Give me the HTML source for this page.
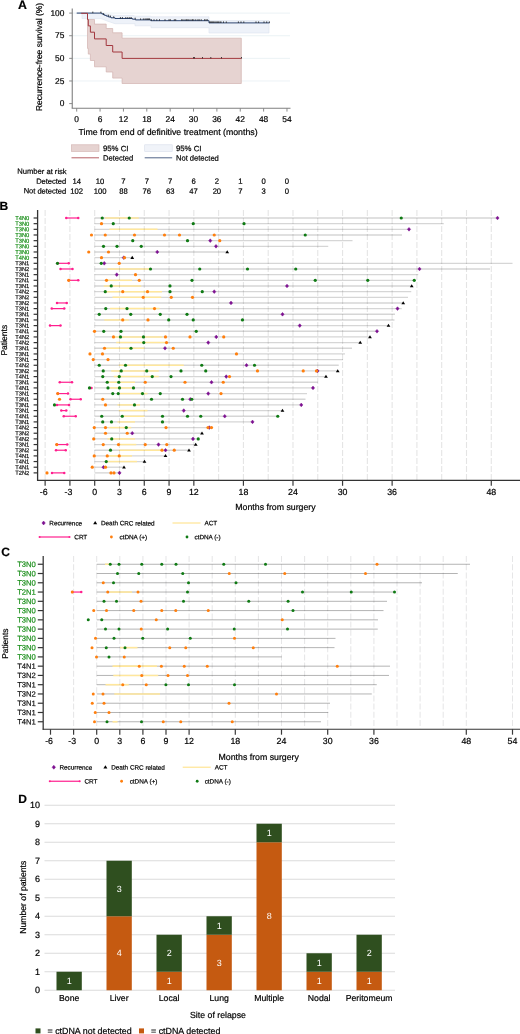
<!DOCTYPE html>
<html lang="en"><head><meta charset="utf-8"><title>Figure</title>
<style>html,body{margin:0;padding:0;background:#fff}svg{display:block}text{font-family:"Liberation Sans",sans-serif;text-rendering:geometricPrecision}</style></head><body>
<svg width="520" height="1034" viewBox="0 0 520 1034">
<rect width="520" height="1034" fill="#fff"/>
<g id="panelA">
<text x="18.00" y="9.00" font-size="12.3" text-anchor="start" fill="#000" stroke="#000" stroke-width="0.2" font-weight="bold" >A</text>
<line x1="72.50" y1="80.97" x2="290.00" y2="80.97" stroke="#e6eff2" stroke-width="0.8" />
<line x1="72.50" y1="58.35" x2="290.00" y2="58.35" stroke="#e6eff2" stroke-width="0.8" />
<line x1="72.50" y1="35.72" x2="290.00" y2="35.72" stroke="#e6eff2" stroke-width="0.8" />
<line x1="72.50" y1="13.10" x2="290.00" y2="13.10" stroke="#e6eff2" stroke-width="0.8" />
<polygon points="87.50,13.40 87.50,19.50 94.50,19.50 94.50,24.10 106.20,24.10 106.20,28.50 112.70,28.50 112.70,32.80 122.10,32.80 122.10,38.20 241.30,38.20 241.30,83.50 122.10,83.50 122.10,78.10 112.70,78.10 112.70,72.00 106.20,72.00 106.20,66.80 94.50,66.80 94.50,60.50 90.40,60.50 90.40,54.10 88.30,54.10 88.30,48.40 87.50,48.40" fill="#e6d3d1" stroke="#d2b3b0" stroke-width="0.7"/>
<polygon points="77.00,13.00 101.70,13.00 104.60,13.60 108.50,14.60 115.00,15.40 132.50,15.40 135.40,16.20 150.80,16.20 151.20,16.80 209.00,16.80 209.00,20.60 269.00,20.60 269.00,33.00 209.00,33.00 209.00,27.70 151.00,27.70 151.00,25.80 135.00,25.80 135.00,23.70 115.00,23.70 108.00,21.30 101.00,18.60 82.00,18.60 82.00,13.00" fill="#edf1f8" stroke="#dbe2ee" stroke-width="0.6" fill-opacity="0.92"/>
<polyline points="76.70,13.10 101.70,13.10 101.70,13.80 103.00,13.80 103.00,14.60 104.60,14.60 104.60,15.40 106.50,15.40 106.50,16.20 108.50,16.20 108.50,17.00 111.00,17.00 111.00,17.80 115.00,17.80 115.00,18.50 132.50,18.50 132.50,19.20 135.40,19.20 135.40,19.90 150.80,19.90 150.80,20.70 209.00,20.70 209.00,22.90 269.50,22.90" fill="none" stroke="#243c68" stroke-width="0.95"/>
<line x1="92.80" y1="11.60" x2="92.80" y2="13.10" stroke="#111" stroke-width="0.75" />
<line x1="100.90" y1="11.60" x2="100.90" y2="13.10" stroke="#111" stroke-width="0.75" />
<line x1="103.60" y1="13.10" x2="103.60" y2="14.60" stroke="#111" stroke-width="0.75" />
<line x1="108.30" y1="14.70" x2="108.30" y2="16.20" stroke="#111" stroke-width="0.75" />
<line x1="110.30" y1="15.50" x2="110.30" y2="17.00" stroke="#111" stroke-width="0.75" />
<line x1="113.70" y1="16.30" x2="113.70" y2="17.80" stroke="#111" stroke-width="0.75" />
<line x1="120.40" y1="17.00" x2="120.40" y2="18.50" stroke="#111" stroke-width="0.75" />
<line x1="122.40" y1="17.00" x2="122.40" y2="18.50" stroke="#111" stroke-width="0.75" />
<line x1="125.80" y1="17.00" x2="125.80" y2="18.50" stroke="#111" stroke-width="0.75" />
<line x1="127.80" y1="17.00" x2="127.80" y2="18.50" stroke="#111" stroke-width="0.75" />
<line x1="129.80" y1="17.00" x2="129.80" y2="18.50" stroke="#111" stroke-width="0.75" />
<line x1="131.20" y1="17.00" x2="131.20" y2="18.50" stroke="#111" stroke-width="0.75" />
<line x1="135.20" y1="17.70" x2="135.20" y2="19.20" stroke="#111" stroke-width="0.75" />
<line x1="140.60" y1="18.40" x2="140.60" y2="19.90" stroke="#111" stroke-width="0.75" />
<line x1="143.30" y1="18.40" x2="143.30" y2="19.90" stroke="#111" stroke-width="0.75" />
<line x1="145.00" y1="18.40" x2="145.00" y2="19.90" stroke="#111" stroke-width="0.75" />
<line x1="146.20" y1="18.40" x2="146.20" y2="19.90" stroke="#111" stroke-width="0.75" />
<line x1="147.40" y1="18.40" x2="147.40" y2="19.90" stroke="#111" stroke-width="0.75" />
<line x1="148.60" y1="18.40" x2="148.60" y2="19.90" stroke="#111" stroke-width="0.75" />
<line x1="149.60" y1="18.40" x2="149.60" y2="19.90" stroke="#111" stroke-width="0.75" />
<line x1="151.40" y1="19.20" x2="151.40" y2="20.70" stroke="#111" stroke-width="0.75" />
<line x1="154.00" y1="19.20" x2="154.00" y2="20.70" stroke="#111" stroke-width="0.75" />
<line x1="156.80" y1="19.20" x2="156.80" y2="20.70" stroke="#111" stroke-width="0.75" />
<line x1="159.50" y1="19.20" x2="159.50" y2="20.70" stroke="#111" stroke-width="0.75" />
<line x1="165.00" y1="19.20" x2="165.00" y2="20.70" stroke="#111" stroke-width="0.75" />
<line x1="169.00" y1="19.20" x2="169.00" y2="20.70" stroke="#111" stroke-width="0.75" />
<line x1="170.30" y1="19.20" x2="170.30" y2="20.70" stroke="#111" stroke-width="0.75" />
<line x1="174.30" y1="19.20" x2="174.30" y2="20.70" stroke="#111" stroke-width="0.75" />
<line x1="175.70" y1="19.20" x2="175.70" y2="20.70" stroke="#111" stroke-width="0.75" />
<line x1="181.70" y1="19.20" x2="181.70" y2="20.70" stroke="#111" stroke-width="0.75" />
<line x1="183.00" y1="19.20" x2="183.00" y2="20.70" stroke="#111" stroke-width="0.75" />
<line x1="185.00" y1="19.20" x2="185.00" y2="20.70" stroke="#111" stroke-width="0.75" />
<line x1="186.40" y1="19.20" x2="186.40" y2="20.70" stroke="#111" stroke-width="0.75" />
<line x1="187.80" y1="19.20" x2="187.80" y2="20.70" stroke="#111" stroke-width="0.75" />
<line x1="189.00" y1="19.20" x2="189.00" y2="20.70" stroke="#111" stroke-width="0.75" />
<line x1="191.00" y1="19.20" x2="191.00" y2="20.70" stroke="#111" stroke-width="0.75" />
<line x1="192.50" y1="19.20" x2="192.50" y2="20.70" stroke="#111" stroke-width="0.75" />
<line x1="193.80" y1="19.20" x2="193.80" y2="20.70" stroke="#111" stroke-width="0.75" />
<line x1="195.80" y1="19.20" x2="195.80" y2="20.70" stroke="#111" stroke-width="0.75" />
<line x1="197.90" y1="19.20" x2="197.90" y2="20.70" stroke="#111" stroke-width="0.75" />
<line x1="199.20" y1="19.20" x2="199.20" y2="20.70" stroke="#111" stroke-width="0.75" />
<line x1="201.20" y1="19.20" x2="201.20" y2="20.70" stroke="#111" stroke-width="0.75" />
<line x1="204.60" y1="19.20" x2="204.60" y2="20.70" stroke="#111" stroke-width="0.75" />
<line x1="206.00" y1="19.20" x2="206.00" y2="20.70" stroke="#111" stroke-width="0.75" />
<line x1="207.30" y1="19.20" x2="207.30" y2="20.70" stroke="#111" stroke-width="0.75" />
<line x1="209.80" y1="21.40" x2="209.80" y2="22.90" stroke="#111" stroke-width="0.75" />
<line x1="210.80" y1="21.40" x2="210.80" y2="22.90" stroke="#111" stroke-width="0.75" />
<line x1="211.80" y1="21.40" x2="211.80" y2="22.90" stroke="#111" stroke-width="0.75" />
<line x1="212.80" y1="21.40" x2="212.80" y2="22.90" stroke="#111" stroke-width="0.75" />
<line x1="213.80" y1="21.40" x2="213.80" y2="22.90" stroke="#111" stroke-width="0.75" />
<line x1="215.00" y1="21.40" x2="215.00" y2="22.90" stroke="#111" stroke-width="0.75" />
<line x1="216.20" y1="21.40" x2="216.20" y2="22.90" stroke="#111" stroke-width="0.75" />
<line x1="217.40" y1="21.40" x2="217.40" y2="22.90" stroke="#111" stroke-width="0.75" />
<line x1="218.60" y1="21.40" x2="218.60" y2="22.90" stroke="#111" stroke-width="0.75" />
<line x1="220.00" y1="21.40" x2="220.00" y2="22.90" stroke="#111" stroke-width="0.75" />
<line x1="221.00" y1="21.40" x2="221.00" y2="22.90" stroke="#111" stroke-width="0.75" />
<line x1="223.50" y1="21.40" x2="223.50" y2="22.90" stroke="#111" stroke-width="0.75" />
<line x1="226.30" y1="21.40" x2="226.30" y2="22.90" stroke="#111" stroke-width="0.75" />
<line x1="238.40" y1="21.40" x2="238.40" y2="22.90" stroke="#111" stroke-width="0.75" />
<line x1="241.00" y1="21.40" x2="241.00" y2="22.90" stroke="#111" stroke-width="0.75" />
<line x1="243.80" y1="21.40" x2="243.80" y2="22.90" stroke="#111" stroke-width="0.75" />
<line x1="256.00" y1="21.40" x2="256.00" y2="22.90" stroke="#111" stroke-width="0.75" />
<line x1="258.60" y1="21.40" x2="258.60" y2="22.90" stroke="#111" stroke-width="0.75" />
<line x1="264.00" y1="21.40" x2="264.00" y2="22.90" stroke="#111" stroke-width="0.75" />
<line x1="266.70" y1="21.40" x2="266.70" y2="22.90" stroke="#111" stroke-width="0.75" />
<line x1="269.40" y1="21.40" x2="269.40" y2="22.90" stroke="#111" stroke-width="0.75" />
<polyline points="81.20,13.30 87.50,13.30 87.50,19.50 88.30,19.50 88.30,25.90 90.40,25.90 90.40,32.20 94.50,32.20 94.50,38.90 106.20,38.90 106.20,45.50 112.70,45.50 112.70,52.00 122.10,52.00 122.10,58.40 241.50,58.40" fill="none" stroke="#a3383f" stroke-width="1"/>
<line x1="193.60" y1="57.00" x2="193.60" y2="58.40" stroke="#111" stroke-width="0.75" />
<line x1="194.40" y1="57.00" x2="194.40" y2="58.40" stroke="#111" stroke-width="0.75" />
<line x1="202.50" y1="57.00" x2="202.50" y2="58.40" stroke="#111" stroke-width="0.75" />
<line x1="210.80" y1="57.00" x2="210.80" y2="58.40" stroke="#111" stroke-width="0.75" />
<line x1="221.50" y1="57.00" x2="221.50" y2="58.40" stroke="#111" stroke-width="0.75" />
<line x1="241.50" y1="57.00" x2="241.50" y2="58.40" stroke="#111" stroke-width="0.75" />
<line x1="72.25" y1="8.50" x2="72.25" y2="108.30" stroke="#7f7f7f" stroke-width="1.1" />
<line x1="71.70" y1="108.30" x2="290.50" y2="108.30" stroke="#7f7f7f" stroke-width="1.1" />
<line x1="69.20" y1="103.60" x2="72.25" y2="103.60" stroke="#7f7f7f" stroke-width="0.9" />
<text x="64.40" y="106.15" font-size="8.4" text-anchor="end" fill="#000" stroke="#000" stroke-width="0.2" >0</text>
<line x1="69.20" y1="80.97" x2="72.25" y2="80.97" stroke="#7f7f7f" stroke-width="0.9" />
<text x="64.40" y="83.52" font-size="8.4" text-anchor="end" fill="#000" stroke="#000" stroke-width="0.2" >25</text>
<line x1="69.20" y1="58.35" x2="72.25" y2="58.35" stroke="#7f7f7f" stroke-width="0.9" />
<text x="64.40" y="60.90" font-size="8.4" text-anchor="end" fill="#000" stroke="#000" stroke-width="0.2" >50</text>
<line x1="69.20" y1="35.72" x2="72.25" y2="35.72" stroke="#7f7f7f" stroke-width="0.9" />
<text x="64.40" y="38.27" font-size="8.4" text-anchor="end" fill="#000" stroke="#000" stroke-width="0.2" >75</text>
<line x1="69.20" y1="13.10" x2="72.25" y2="13.10" stroke="#7f7f7f" stroke-width="0.9" />
<text x="64.40" y="15.65" font-size="8.4" text-anchor="end" fill="#000" stroke="#000" stroke-width="0.2" >100</text>
<line x1="76.70" y1="108.30" x2="76.70" y2="111.60" stroke="#7f7f7f" stroke-width="0.9" />
<text x="76.70" y="121.50" font-size="8.4" text-anchor="middle" fill="#000" stroke="#000" stroke-width="0.2" >0</text>
<line x1="100.06" y1="108.30" x2="100.06" y2="111.60" stroke="#7f7f7f" stroke-width="0.9" />
<text x="100.06" y="121.50" font-size="8.4" text-anchor="middle" fill="#000" stroke="#000" stroke-width="0.2" >6</text>
<line x1="123.43" y1="108.30" x2="123.43" y2="111.60" stroke="#7f7f7f" stroke-width="0.9" />
<text x="123.43" y="121.50" font-size="8.4" text-anchor="middle" fill="#000" stroke="#000" stroke-width="0.2" >12</text>
<line x1="146.79" y1="108.30" x2="146.79" y2="111.60" stroke="#7f7f7f" stroke-width="0.9" />
<text x="146.79" y="121.50" font-size="8.4" text-anchor="middle" fill="#000" stroke="#000" stroke-width="0.2" >18</text>
<line x1="170.16" y1="108.30" x2="170.16" y2="111.60" stroke="#7f7f7f" stroke-width="0.9" />
<text x="170.16" y="121.50" font-size="8.4" text-anchor="middle" fill="#000" stroke="#000" stroke-width="0.2" >24</text>
<line x1="193.52" y1="108.30" x2="193.52" y2="111.60" stroke="#7f7f7f" stroke-width="0.9" />
<text x="193.52" y="121.50" font-size="8.4" text-anchor="middle" fill="#000" stroke="#000" stroke-width="0.2" >30</text>
<line x1="216.88" y1="108.30" x2="216.88" y2="111.60" stroke="#7f7f7f" stroke-width="0.9" />
<text x="216.88" y="121.50" font-size="8.4" text-anchor="middle" fill="#000" stroke="#000" stroke-width="0.2" >36</text>
<line x1="240.25" y1="108.30" x2="240.25" y2="111.60" stroke="#7f7f7f" stroke-width="0.9" />
<text x="240.25" y="121.50" font-size="8.4" text-anchor="middle" fill="#000" stroke="#000" stroke-width="0.2" >42</text>
<line x1="263.61" y1="108.30" x2="263.61" y2="111.60" stroke="#7f7f7f" stroke-width="0.9" />
<text x="263.61" y="121.50" font-size="8.4" text-anchor="middle" fill="#000" stroke="#000" stroke-width="0.2" >48</text>
<line x1="286.98" y1="108.30" x2="286.98" y2="111.60" stroke="#7f7f7f" stroke-width="0.9" />
<text x="286.98" y="121.50" font-size="8.4" text-anchor="middle" fill="#000" stroke="#000" stroke-width="0.2" >54</text>
<text x="42.40" y="57.00" font-size="8.5" text-anchor="middle" fill="#000" stroke="#000" stroke-width="0.2" transform="rotate(-90 42.40 57.00)" >Recurrence-free survival (%)</text>
<text x="168.00" y="134.80" font-size="8.75" text-anchor="middle" fill="#000" stroke="#000" stroke-width="0.2" >Time from end of definitive treatment (months)</text>
<rect x="71.5" y="144.8" width="27.5" height="6.6" fill="#e6d3d1" stroke="#cfaeab" stroke-width="0.6"/>
<text x="103.00" y="151.00" font-size="7.75" text-anchor="start" fill="#000" stroke="#000" stroke-width="0.2" transform="rotate(0.5 103.00 151.00)" >95% CI</text>
<line x1="71.50" y1="157.80" x2="99.00" y2="157.80" stroke="#a3383f" stroke-width="0.8" />
<text x="103.00" y="160.40" font-size="7.55" text-anchor="start" fill="#000" stroke="#000" stroke-width="0.2" transform="rotate(0.5 103.00 160.40)" >Detected</text>
<rect x="144.7" y="144.8" width="27.5" height="6.6" fill="#f0f3f9" stroke="#d6dcea" stroke-width="0.6"/>
<text x="176.00" y="151.00" font-size="7.75" text-anchor="start" fill="#000" stroke="#000" stroke-width="0.2" transform="rotate(0.5 176.00 151.00)" >95% CI</text>
<line x1="144.70" y1="157.80" x2="172.20" y2="157.80" stroke="#243c68" stroke-width="0.8" />
<text x="176.00" y="160.40" font-size="7.55" text-anchor="start" fill="#000" stroke="#000" stroke-width="0.2" transform="rotate(0.5 176.00 160.40)" >Not detected</text>
<text x="17.30" y="173.70" font-size="7.6" text-anchor="start" fill="#000" stroke="#000" stroke-width="0.2" transform="rotate(0.5 17.30 173.70)" >Number at risk</text>
<text x="66.20" y="183.90" font-size="7.5" text-anchor="end" fill="#000" stroke="#000" stroke-width="0.2" transform="rotate(0.5 66.20 183.90)" >Detected</text>
<text x="66.20" y="193.70" font-size="7.5" text-anchor="end" fill="#000" stroke="#000" stroke-width="0.2" transform="rotate(0.5 66.20 193.70)" >Not detected</text>
<text x="76.70" y="183.90" font-size="7.6" text-anchor="middle" fill="#000" stroke="#000" stroke-width="0.2" transform="rotate(0.5 76.70 183.90)" >14</text>
<text x="76.70" y="193.70" font-size="7.6" text-anchor="middle" fill="#000" stroke="#000" stroke-width="0.2" transform="rotate(0.5 76.70 193.70)" >102</text>
<text x="100.06" y="183.90" font-size="7.6" text-anchor="middle" fill="#000" stroke="#000" stroke-width="0.2" transform="rotate(0.5 100.06 183.90)" >10</text>
<text x="100.06" y="193.70" font-size="7.6" text-anchor="middle" fill="#000" stroke="#000" stroke-width="0.2" transform="rotate(0.5 100.06 193.70)" >100</text>
<text x="123.43" y="183.90" font-size="7.6" text-anchor="middle" fill="#000" stroke="#000" stroke-width="0.2" transform="rotate(0.5 123.43 183.90)" >7</text>
<text x="123.43" y="193.70" font-size="7.6" text-anchor="middle" fill="#000" stroke="#000" stroke-width="0.2" transform="rotate(0.5 123.43 193.70)" >88</text>
<text x="146.79" y="183.90" font-size="7.6" text-anchor="middle" fill="#000" stroke="#000" stroke-width="0.2" transform="rotate(0.5 146.79 183.90)" >7</text>
<text x="146.79" y="193.70" font-size="7.6" text-anchor="middle" fill="#000" stroke="#000" stroke-width="0.2" transform="rotate(0.5 146.79 193.70)" >76</text>
<text x="170.16" y="183.90" font-size="7.6" text-anchor="middle" fill="#000" stroke="#000" stroke-width="0.2" transform="rotate(0.5 170.16 183.90)" >7</text>
<text x="170.16" y="193.70" font-size="7.6" text-anchor="middle" fill="#000" stroke="#000" stroke-width="0.2" transform="rotate(0.5 170.16 193.70)" >63</text>
<text x="193.52" y="183.90" font-size="7.6" text-anchor="middle" fill="#000" stroke="#000" stroke-width="0.2" transform="rotate(0.5 193.52 183.90)" >6</text>
<text x="193.52" y="193.70" font-size="7.6" text-anchor="middle" fill="#000" stroke="#000" stroke-width="0.2" transform="rotate(0.5 193.52 193.70)" >47</text>
<text x="216.88" y="183.90" font-size="7.6" text-anchor="middle" fill="#000" stroke="#000" stroke-width="0.2" transform="rotate(0.5 216.88 183.90)" >2</text>
<text x="216.88" y="193.70" font-size="7.6" text-anchor="middle" fill="#000" stroke="#000" stroke-width="0.2" transform="rotate(0.5 216.88 193.70)" >20</text>
<text x="240.25" y="183.90" font-size="7.6" text-anchor="middle" fill="#000" stroke="#000" stroke-width="0.2" transform="rotate(0.5 240.25 183.90)" >1</text>
<text x="240.25" y="193.70" font-size="7.6" text-anchor="middle" fill="#000" stroke="#000" stroke-width="0.2" transform="rotate(0.5 240.25 193.70)" >7</text>
<text x="263.61" y="183.90" font-size="7.6" text-anchor="middle" fill="#000" stroke="#000" stroke-width="0.2" transform="rotate(0.5 263.61 183.90)" >0</text>
<text x="263.61" y="193.70" font-size="7.6" text-anchor="middle" fill="#000" stroke="#000" stroke-width="0.2" transform="rotate(0.5 263.61 193.70)" >3</text>
<text x="286.98" y="183.90" font-size="7.6" text-anchor="middle" fill="#000" stroke="#000" stroke-width="0.2" transform="rotate(0.5 286.98 183.90)" >0</text>
<text x="286.98" y="193.70" font-size="7.6" text-anchor="middle" fill="#000" stroke="#000" stroke-width="0.2" transform="rotate(0.5 286.98 193.70)" >0</text>
</g>
<g id="panelB">
<text x="-0.60" y="210.30" font-size="12" text-anchor="start" fill="#000" stroke="#000" stroke-width="0.2" font-weight="bold" >B</text>
<line x1="94.50" y1="218.00" x2="497.50" y2="218.00" stroke="#d6d6d6" stroke-width="1.35" />
<line x1="105.00" y1="218.00" x2="138.75" y2="218.00" stroke="#ffe79c" stroke-width="1.5" />
<line x1="94.50" y1="223.66" x2="443.75" y2="223.66" stroke="#d6d6d6" stroke-width="1.35" />
<line x1="94.50" y1="229.33" x2="409.00" y2="229.33" stroke="#d6d6d6" stroke-width="1.35" />
<line x1="109.50" y1="229.33" x2="157.50" y2="229.33" stroke="#ffe79c" stroke-width="1.5" />
<line x1="94.50" y1="234.99" x2="402.00" y2="234.99" stroke="#d6d6d6" stroke-width="1.35" />
<line x1="94.50" y1="240.66" x2="352.50" y2="240.66" stroke="#d6d6d6" stroke-width="1.35" />
<line x1="94.50" y1="246.32" x2="328.25" y2="246.32" stroke="#d6d6d6" stroke-width="1.35" />
<line x1="94.50" y1="251.98" x2="227.25" y2="251.98" stroke="#d6d6d6" stroke-width="1.35" />
<line x1="94.50" y1="257.65" x2="132.25" y2="257.65" stroke="#d6d6d6" stroke-width="1.35" />
<line x1="94.50" y1="263.31" x2="512.50" y2="263.31" stroke="#d6d6d6" stroke-width="1.35" />
<line x1="94.50" y1="268.98" x2="490.00" y2="268.98" stroke="#d6d6d6" stroke-width="1.35" />
<line x1="107.50" y1="268.98" x2="150.00" y2="268.98" stroke="#ffe79c" stroke-width="1.5" />
<line x1="94.50" y1="274.64" x2="418.25" y2="274.64" stroke="#d6d6d6" stroke-width="1.35" />
<line x1="94.50" y1="280.30" x2="414.25" y2="280.30" stroke="#d6d6d6" stroke-width="1.35" />
<line x1="106.50" y1="280.30" x2="132.00" y2="280.30" stroke="#ffe79c" stroke-width="1.5" />
<line x1="94.50" y1="285.97" x2="411.75" y2="285.97" stroke="#d6d6d6" stroke-width="1.35" />
<line x1="103.75" y1="285.97" x2="141.25" y2="285.97" stroke="#ffe79c" stroke-width="1.5" />
<line x1="94.50" y1="291.63" x2="411.25" y2="291.63" stroke="#d6d6d6" stroke-width="1.35" />
<line x1="105.25" y1="291.63" x2="162.00" y2="291.63" stroke="#ffe79c" stroke-width="1.5" />
<line x1="94.50" y1="297.30" x2="408.00" y2="297.30" stroke="#d6d6d6" stroke-width="1.35" />
<line x1="112.50" y1="297.30" x2="161.25" y2="297.30" stroke="#ffe79c" stroke-width="1.5" />
<line x1="94.50" y1="302.96" x2="403.25" y2="302.96" stroke="#d6d6d6" stroke-width="1.35" />
<line x1="94.50" y1="308.62" x2="401.75" y2="308.62" stroke="#d6d6d6" stroke-width="1.35" />
<line x1="110.00" y1="308.62" x2="159.50" y2="308.62" stroke="#ffe79c" stroke-width="1.5" />
<line x1="94.50" y1="314.29" x2="395.00" y2="314.29" stroke="#d6d6d6" stroke-width="1.35" />
<line x1="94.50" y1="319.95" x2="394.50" y2="319.95" stroke="#d6d6d6" stroke-width="1.35" />
<line x1="104.25" y1="319.95" x2="128.75" y2="319.95" stroke="#ffe79c" stroke-width="1.5" />
<line x1="94.50" y1="325.62" x2="388.50" y2="325.62" stroke="#d6d6d6" stroke-width="1.35" />
<line x1="94.50" y1="331.28" x2="377.00" y2="331.28" stroke="#d6d6d6" stroke-width="1.35" />
<line x1="94.50" y1="336.94" x2="370.00" y2="336.94" stroke="#d6d6d6" stroke-width="1.35" />
<line x1="113.50" y1="336.94" x2="162.50" y2="336.94" stroke="#ffe79c" stroke-width="1.5" />
<line x1="94.50" y1="342.61" x2="360.25" y2="342.61" stroke="#d6d6d6" stroke-width="1.35" />
<line x1="116.25" y1="342.61" x2="165.00" y2="342.61" stroke="#ffe79c" stroke-width="1.5" />
<line x1="94.50" y1="348.27" x2="352.00" y2="348.27" stroke="#d6d6d6" stroke-width="1.35" />
<line x1="104.50" y1="348.27" x2="144.50" y2="348.27" stroke="#ffe79c" stroke-width="1.5" />
<line x1="94.50" y1="353.94" x2="345.00" y2="353.94" stroke="#d6d6d6" stroke-width="1.35" />
<line x1="94.50" y1="359.60" x2="343.00" y2="359.60" stroke="#d6d6d6" stroke-width="1.35" />
<line x1="94.50" y1="365.26" x2="338.75" y2="365.26" stroke="#d6d6d6" stroke-width="1.35" />
<line x1="118.75" y1="365.26" x2="183.75" y2="365.26" stroke="#ffe79c" stroke-width="1.5" />
<line x1="94.50" y1="370.93" x2="337.75" y2="370.93" stroke="#d6d6d6" stroke-width="1.35" />
<line x1="111.25" y1="370.93" x2="158.75" y2="370.93" stroke="#ffe79c" stroke-width="1.5" />
<line x1="94.50" y1="376.59" x2="326.00" y2="376.59" stroke="#d6d6d6" stroke-width="1.35" />
<line x1="113.75" y1="376.59" x2="158.75" y2="376.59" stroke="#ffe79c" stroke-width="1.5" />
<line x1="94.50" y1="382.26" x2="318.00" y2="382.26" stroke="#d6d6d6" stroke-width="1.35" />
<line x1="107.25" y1="382.26" x2="135.00" y2="382.26" stroke="#ffe79c" stroke-width="1.5" />
<line x1="94.50" y1="387.92" x2="313.00" y2="387.92" stroke="#d6d6d6" stroke-width="1.35" />
<line x1="110.00" y1="387.92" x2="133.75" y2="387.92" stroke="#ffe79c" stroke-width="1.5" />
<line x1="94.50" y1="393.58" x2="307.00" y2="393.58" stroke="#d6d6d6" stroke-width="1.35" />
<line x1="120.00" y1="393.58" x2="147.50" y2="393.58" stroke="#ffe79c" stroke-width="1.5" />
<line x1="94.50" y1="399.25" x2="305.50" y2="399.25" stroke="#d6d6d6" stroke-width="1.35" />
<line x1="94.50" y1="404.91" x2="301.25" y2="404.91" stroke="#d6d6d6" stroke-width="1.35" />
<line x1="117.50" y1="404.91" x2="140.00" y2="404.91" stroke="#ffe79c" stroke-width="1.5" />
<line x1="94.50" y1="410.58" x2="282.50" y2="410.58" stroke="#d6d6d6" stroke-width="1.35" />
<line x1="118.75" y1="410.58" x2="147.50" y2="410.58" stroke="#ffe79c" stroke-width="1.5" />
<line x1="94.50" y1="416.24" x2="277.75" y2="416.24" stroke="#d6d6d6" stroke-width="1.35" />
<line x1="122.25" y1="416.24" x2="144.50" y2="416.24" stroke="#ffe79c" stroke-width="1.5" />
<line x1="94.50" y1="421.90" x2="252.50" y2="421.90" stroke="#d6d6d6" stroke-width="1.35" />
<line x1="117.50" y1="421.90" x2="135.00" y2="421.90" stroke="#ffe79c" stroke-width="1.5" />
<line x1="94.50" y1="427.57" x2="211.50" y2="427.57" stroke="#d6d6d6" stroke-width="1.35" />
<line x1="108.75" y1="427.57" x2="131.25" y2="427.57" stroke="#ffe79c" stroke-width="1.5" />
<line x1="94.50" y1="433.23" x2="202.00" y2="433.23" stroke="#d6d6d6" stroke-width="1.35" />
<line x1="94.50" y1="438.90" x2="198.25" y2="438.90" stroke="#d6d6d6" stroke-width="1.35" />
<line x1="107.50" y1="438.90" x2="135.00" y2="438.90" stroke="#ffe79c" stroke-width="1.5" />
<line x1="94.50" y1="444.56" x2="195.75" y2="444.56" stroke="#d6d6d6" stroke-width="1.35" />
<line x1="120.00" y1="444.56" x2="136.25" y2="444.56" stroke="#ffe79c" stroke-width="1.5" />
<line x1="94.50" y1="450.22" x2="189.00" y2="450.22" stroke="#d6d6d6" stroke-width="1.35" />
<line x1="118.75" y1="450.22" x2="162.00" y2="450.22" stroke="#ffe79c" stroke-width="1.5" />
<line x1="94.50" y1="455.89" x2="165.50" y2="455.89" stroke="#d6d6d6" stroke-width="1.35" />
<line x1="107.25" y1="455.89" x2="132.00" y2="455.89" stroke="#ffe79c" stroke-width="1.5" />
<line x1="94.50" y1="461.55" x2="144.50" y2="461.55" stroke="#d6d6d6" stroke-width="1.35" />
<line x1="106.25" y1="461.55" x2="137.00" y2="461.55" stroke="#ffe79c" stroke-width="1.5" />
<line x1="94.50" y1="467.22" x2="124.00" y2="467.22" stroke="#d6d6d6" stroke-width="1.35" />
<line x1="94.50" y1="472.88" x2="119.50" y2="472.88" stroke="#d6d6d6" stroke-width="1.35" />
<line x1="45.13" y1="210.00" x2="45.13" y2="480.00" stroke="#000" stroke-width="1.1" stroke-opacity="0.105" stroke-dasharray="6 2"/>
<line x1="69.91" y1="210.00" x2="69.91" y2="480.00" stroke="#000" stroke-width="1.1" stroke-opacity="0.105" stroke-dasharray="6 2"/>
<line x1="94.70" y1="210.00" x2="94.70" y2="480.00" stroke="#000" stroke-width="1.1" stroke-opacity="0.105" stroke-dasharray="6 2"/>
<line x1="119.49" y1="210.00" x2="119.49" y2="480.00" stroke="#000" stroke-width="1.1" stroke-opacity="0.105" stroke-dasharray="6 2"/>
<line x1="144.27" y1="210.00" x2="144.27" y2="480.00" stroke="#000" stroke-width="1.1" stroke-opacity="0.105" stroke-dasharray="6 2"/>
<line x1="169.06" y1="210.00" x2="169.06" y2="480.00" stroke="#000" stroke-width="1.1" stroke-opacity="0.105" stroke-dasharray="6 2"/>
<line x1="193.84" y1="210.00" x2="193.84" y2="480.00" stroke="#000" stroke-width="1.1" stroke-opacity="0.105" stroke-dasharray="6 2"/>
<line x1="218.63" y1="210.00" x2="218.63" y2="480.00" stroke="#000" stroke-width="1.1" stroke-opacity="0.105" stroke-dasharray="6 2"/>
<line x1="243.42" y1="210.00" x2="243.42" y2="480.00" stroke="#000" stroke-width="1.1" stroke-opacity="0.105" stroke-dasharray="6 2"/>
<line x1="268.20" y1="210.00" x2="268.20" y2="480.00" stroke="#000" stroke-width="1.1" stroke-opacity="0.105" stroke-dasharray="6 2"/>
<line x1="292.99" y1="210.00" x2="292.99" y2="480.00" stroke="#000" stroke-width="1.1" stroke-opacity="0.105" stroke-dasharray="6 2"/>
<line x1="317.77" y1="210.00" x2="317.77" y2="480.00" stroke="#000" stroke-width="1.1" stroke-opacity="0.105" stroke-dasharray="6 2"/>
<line x1="342.56" y1="210.00" x2="342.56" y2="480.00" stroke="#000" stroke-width="1.1" stroke-opacity="0.105" stroke-dasharray="6 2"/>
<line x1="367.35" y1="210.00" x2="367.35" y2="480.00" stroke="#000" stroke-width="1.1" stroke-opacity="0.105" stroke-dasharray="6 2"/>
<line x1="392.13" y1="210.00" x2="392.13" y2="480.00" stroke="#000" stroke-width="1.1" stroke-opacity="0.105" stroke-dasharray="6 2"/>
<line x1="416.92" y1="210.00" x2="416.92" y2="480.00" stroke="#000" stroke-width="1.1" stroke-opacity="0.105" stroke-dasharray="6 2"/>
<line x1="441.70" y1="210.00" x2="441.70" y2="480.00" stroke="#000" stroke-width="1.1" stroke-opacity="0.105" stroke-dasharray="6 2"/>
<line x1="466.49" y1="210.00" x2="466.49" y2="480.00" stroke="#000" stroke-width="1.1" stroke-opacity="0.105" stroke-dasharray="6 2"/>
<line x1="491.28" y1="210.00" x2="491.28" y2="480.00" stroke="#000" stroke-width="1.1" stroke-opacity="0.105" stroke-dasharray="6 2"/>
<line x1="66.25" y1="218.00" x2="78.25" y2="218.00" stroke="#ff1f8e" stroke-width="1.2" />
<circle cx="66.25" cy="218.00" r="1.25" fill="#ff1f8e"/><circle cx="78.25" cy="218.00" r="1.25" fill="#ff1f8e"/>
<polygon points="497.50,216.16 499.10,218.00 497.50,219.84 495.90,218.00" fill="#7d1090" stroke="#7d1090" stroke-width="0.5" stroke-linejoin="round"/>
<circle cx="102.25" cy="218.00" r="1.6" fill="#0f7a14"/>
<circle cx="129.25" cy="218.00" r="1.6" fill="#0f7a14"/>
<circle cx="401.25" cy="218.00" r="1.6" fill="#0f7a14"/>
<line x1="33.60" y1="218.00" x2="37.30" y2="218.00" stroke="#333" stroke-width="1.2" />
<text x="29.30" y="220.07" font-size="5.75" text-anchor="end" fill="#1b8f1b" stroke="#1b8f1b" stroke-width="0.2" transform="rotate(0.5 29.30 220.07)" >T4N0</text>
<circle cx="101.50" cy="223.66" r="1.6" fill="#ff7f0e"/>
<circle cx="113.25" cy="223.66" r="1.6" fill="#0f7a14"/>
<circle cx="193.25" cy="223.66" r="1.6" fill="#0f7a14"/>
<circle cx="244.00" cy="223.66" r="1.6" fill="#0f7a14"/>
<line x1="33.60" y1="223.66" x2="37.30" y2="223.66" stroke="#333" stroke-width="1.2" />
<text x="29.30" y="225.73" font-size="5.75" text-anchor="end" fill="#1b8f1b" stroke="#1b8f1b" stroke-width="0.2" transform="rotate(0.5 29.30 225.73)" >T3N0</text>
<polygon points="409.00,227.49 410.60,229.33 409.00,231.17 407.40,229.33" fill="#7d1090" stroke="#7d1090" stroke-width="0.5" stroke-linejoin="round"/>
<line x1="33.60" y1="229.33" x2="37.30" y2="229.33" stroke="#333" stroke-width="1.2" />
<text x="29.30" y="231.40" font-size="5.75" text-anchor="end" fill="#1b8f1b" stroke="#1b8f1b" stroke-width="0.2" transform="rotate(0.5 29.30 231.40)" >T3N0</text>
<circle cx="91.50" cy="234.99" r="1.6" fill="#ff7f0e"/>
<circle cx="105.25" cy="234.99" r="1.6" fill="#ff7f0e"/>
<circle cx="134.50" cy="234.99" r="1.6" fill="#ff7f0e"/>
<circle cx="164.50" cy="234.99" r="1.6" fill="#ff7f0e"/>
<circle cx="179.50" cy="234.99" r="1.6" fill="#ff7f0e"/>
<circle cx="214.25" cy="234.99" r="1.6" fill="#ff7f0e"/>
<circle cx="305.25" cy="234.99" r="1.6" fill="#0f7a14"/>
<line x1="33.60" y1="234.99" x2="37.30" y2="234.99" stroke="#333" stroke-width="1.2" />
<text x="29.30" y="237.06" font-size="5.75" text-anchor="end" fill="#1b8f1b" stroke="#1b8f1b" stroke-width="0.2" transform="rotate(0.5 29.30 237.06)" >T3N0</text>
<polygon points="210.25,238.82 211.85,240.66 210.25,242.50 208.65,240.66" fill="#7d1090" stroke="#7d1090" stroke-width="0.5" stroke-linejoin="round"/>
<circle cx="132.75" cy="240.66" r="1.6" fill="#0f7a14"/>
<circle cx="187.50" cy="240.66" r="1.6" fill="#0f7a14"/>
<circle cx="219.75" cy="240.66" r="1.6" fill="#ff7f0e"/>
<line x1="33.60" y1="240.66" x2="37.30" y2="240.66" stroke="#333" stroke-width="1.2" />
<text x="29.30" y="242.73" font-size="5.75" text-anchor="end" fill="#1b8f1b" stroke="#1b8f1b" stroke-width="0.2" transform="rotate(0.5 29.30 242.73)" >T3N0</text>
<polygon points="216.00,244.48 217.60,246.32 216.00,248.16 214.40,246.32" fill="#7d1090" stroke="#7d1090" stroke-width="0.5" stroke-linejoin="round"/>
<circle cx="103.50" cy="246.32" r="1.6" fill="#0f7a14"/>
<circle cx="117.00" cy="246.32" r="1.6" fill="#0f7a14"/>
<circle cx="141.25" cy="246.32" r="1.6" fill="#0f7a14"/>
<line x1="33.60" y1="246.32" x2="37.30" y2="246.32" stroke="#333" stroke-width="1.2" />
<text x="29.30" y="248.39" font-size="5.75" text-anchor="end" fill="#1b8f1b" stroke="#1b8f1b" stroke-width="0.2" transform="rotate(0.5 29.30 248.39)" >T3N0</text>
<polygon points="157.25,250.14 158.85,251.98 157.25,253.82 155.65,251.98" fill="#7d1090" stroke="#7d1090" stroke-width="0.5" stroke-linejoin="round"/>
<circle cx="88.75" cy="251.98" r="1.6" fill="#ff7f0e"/>
<circle cx="108.50" cy="251.98" r="1.6" fill="#ff7f0e"/>
<polygon points="227.25,250.19 229.14,253.21 225.36,253.21" fill="#000"/>
<line x1="33.60" y1="251.98" x2="37.30" y2="251.98" stroke="#333" stroke-width="1.2" />
<text x="29.30" y="254.05" font-size="5.75" text-anchor="end" fill="#1b8f1b" stroke="#1b8f1b" stroke-width="0.2" transform="rotate(0.5 29.30 254.05)" >T3N0</text>
<polygon points="123.75,255.81 125.35,257.65 123.75,259.49 122.15,257.65" fill="#7d1090" stroke="#7d1090" stroke-width="0.5" stroke-linejoin="round"/>
<circle cx="101.50" cy="257.65" r="1.6" fill="#ff7f0e"/>
<circle cx="124.50" cy="257.65" r="1.6" fill="#ff7f0e"/>
<polygon points="132.25,255.85 134.14,258.88 130.36,258.88" fill="#000"/>
<line x1="33.60" y1="257.65" x2="37.30" y2="257.65" stroke="#333" stroke-width="1.2" />
<text x="29.30" y="259.72" font-size="5.75" text-anchor="end" fill="#1b8f1b" stroke="#1b8f1b" stroke-width="0.2" transform="rotate(0.5 29.30 259.72)" >T4N0</text>
<line x1="57.50" y1="263.31" x2="68.75" y2="263.31" stroke="#ff1f8e" stroke-width="1.2" />
<circle cx="57.50" cy="263.31" r="1.25" fill="#ff1f8e"/><circle cx="68.75" cy="263.31" r="1.25" fill="#ff1f8e"/>
<polygon points="104.25,261.47 105.85,263.31 104.25,265.15 102.65,263.31" fill="#7d1090" stroke="#7d1090" stroke-width="0.5" stroke-linejoin="round"/>
<circle cx="57.50" cy="263.31" r="1.6" fill="#0f7a14"/>
<circle cx="101.25" cy="263.31" r="1.6" fill="#0f7a14"/>
<circle cx="119.25" cy="263.31" r="1.6" fill="#ff7f0e"/>
<line x1="33.60" y1="263.31" x2="37.30" y2="263.31" stroke="#333" stroke-width="1.2" />
<text x="29.30" y="265.38" font-size="5.75" text-anchor="end" fill="#111" stroke="#111" stroke-width="0.2" transform="rotate(0.5 29.30 265.38)" >T3N1</text>
<line x1="60.50" y1="268.98" x2="72.50" y2="268.98" stroke="#ff1f8e" stroke-width="1.2" />
<circle cx="60.50" cy="268.98" r="1.25" fill="#ff1f8e"/><circle cx="72.50" cy="268.98" r="1.25" fill="#ff1f8e"/>
<polygon points="419.50,267.14 421.10,268.98 419.50,270.82 417.90,268.98" fill="#7d1090" stroke="#7d1090" stroke-width="0.5" stroke-linejoin="round"/>
<circle cx="150.50" cy="268.98" r="1.6" fill="#0f7a14"/>
<circle cx="199.75" cy="268.98" r="1.6" fill="#0f7a14"/>
<circle cx="247.50" cy="268.98" r="1.6" fill="#0f7a14"/>
<circle cx="295.75" cy="268.98" r="1.6" fill="#0f7a14"/>
<line x1="33.60" y1="268.98" x2="37.30" y2="268.98" stroke="#333" stroke-width="1.2" />
<text x="29.30" y="271.05" font-size="5.75" text-anchor="end" fill="#111" stroke="#111" stroke-width="0.2" transform="rotate(0.5 29.30 271.05)" >T3N2</text>
<polygon points="116.75,272.80 118.35,274.64 116.75,276.48 115.15,274.64" fill="#7d1090" stroke="#7d1090" stroke-width="0.5" stroke-linejoin="round"/>
<circle cx="135.50" cy="274.64" r="1.6" fill="#ff7f0e"/>
<line x1="33.60" y1="274.64" x2="37.30" y2="274.64" stroke="#333" stroke-width="1.2" />
<text x="29.30" y="276.71" font-size="5.75" text-anchor="end" fill="#111" stroke="#111" stroke-width="0.2" transform="rotate(0.5 29.30 276.71)" >T3N1</text>
<line x1="68.75" y1="280.30" x2="78.25" y2="280.30" stroke="#ff1f8e" stroke-width="1.2" />
<circle cx="68.75" cy="280.30" r="1.25" fill="#ff1f8e"/><circle cx="78.25" cy="280.30" r="1.25" fill="#ff1f8e"/>
<circle cx="68.75" cy="280.30" r="1.6" fill="#ff7f0e"/>
<circle cx="106.50" cy="280.30" r="1.6" fill="#ff7f0e"/>
<circle cx="139.25" cy="280.30" r="1.6" fill="#ff7f0e"/>
<circle cx="192.00" cy="280.30" r="1.6" fill="#0f7a14"/>
<circle cx="315.25" cy="280.30" r="1.6" fill="#0f7a14"/>
<circle cx="367.75" cy="280.30" r="1.6" fill="#0f7a14"/>
<circle cx="414.25" cy="280.30" r="1.6" fill="#0f7a14"/>
<line x1="33.60" y1="280.30" x2="37.30" y2="280.30" stroke="#333" stroke-width="1.2" />
<text x="29.30" y="282.37" font-size="5.75" text-anchor="end" fill="#111" stroke="#111" stroke-width="0.2" transform="rotate(0.5 29.30 282.37)" >T2N1</text>
<polygon points="287.00,284.13 288.60,285.97 287.00,287.81 285.40,285.97" fill="#7d1090" stroke="#7d1090" stroke-width="0.5" stroke-linejoin="round"/>
<circle cx="111.25" cy="285.97" r="1.6" fill="#0f7a14"/>
<circle cx="170.00" cy="285.97" r="1.6" fill="#0f7a14"/>
<polygon points="411.75,284.17 413.64,287.20 409.86,287.20" fill="#000"/>
<line x1="33.60" y1="285.97" x2="37.30" y2="285.97" stroke="#333" stroke-width="1.2" />
<text x="29.30" y="288.04" font-size="5.75" text-anchor="end" fill="#111" stroke="#111" stroke-width="0.2" transform="rotate(0.5 29.30 288.04)" >T3N1</text>
<polygon points="214.25,289.79 215.85,291.63 214.25,293.47 212.65,291.63" fill="#7d1090" stroke="#7d1090" stroke-width="0.5" stroke-linejoin="round"/>
<circle cx="105.25" cy="291.63" r="1.6" fill="#0f7a14"/>
<circle cx="122.75" cy="291.63" r="1.6" fill="#ff7f0e"/>
<circle cx="147.50" cy="291.63" r="1.6" fill="#ff7f0e"/>
<circle cx="170.00" cy="291.63" r="1.6" fill="#0f7a14"/>
<circle cx="202.25" cy="291.63" r="1.6" fill="#0f7a14"/>
<line x1="33.60" y1="291.63" x2="37.30" y2="291.63" stroke="#333" stroke-width="1.2" />
<text x="29.30" y="293.70" font-size="5.75" text-anchor="end" fill="#111" stroke="#111" stroke-width="0.2" transform="rotate(0.5 29.30 293.70)" >T4N2</text>
<circle cx="143.25" cy="297.30" r="1.6" fill="#ff7f0e"/>
<circle cx="171.25" cy="297.30" r="1.6" fill="#ff7f0e"/>
<circle cx="192.50" cy="297.30" r="1.6" fill="#ff7f0e"/>
<line x1="33.60" y1="297.30" x2="37.30" y2="297.30" stroke="#333" stroke-width="1.2" />
<text x="29.30" y="299.37" font-size="5.75" text-anchor="end" fill="#111" stroke="#111" stroke-width="0.2" transform="rotate(0.5 29.30 299.37)" >T3N2</text>
<line x1="57.00" y1="302.96" x2="66.75" y2="302.96" stroke="#ff1f8e" stroke-width="1.2" />
<circle cx="57.00" cy="302.96" r="1.25" fill="#ff1f8e"/><circle cx="66.75" cy="302.96" r="1.25" fill="#ff1f8e"/>
<polygon points="231.00,301.12 232.60,302.96 231.00,304.80 229.40,302.96" fill="#7d1090" stroke="#7d1090" stroke-width="0.5" stroke-linejoin="round"/>
<polygon points="403.25,301.17 405.14,304.19 401.36,304.19" fill="#000"/>
<line x1="33.60" y1="302.96" x2="37.30" y2="302.96" stroke="#333" stroke-width="1.2" />
<text x="29.30" y="305.03" font-size="5.75" text-anchor="end" fill="#111" stroke="#111" stroke-width="0.2" transform="rotate(0.5 29.30 305.03)" >T3N2</text>
<line x1="51.75" y1="308.62" x2="64.25" y2="308.62" stroke="#ff1f8e" stroke-width="1.2" />
<circle cx="51.75" cy="308.62" r="1.25" fill="#ff1f8e"/><circle cx="64.25" cy="308.62" r="1.25" fill="#ff1f8e"/>
<polygon points="397.50,306.78 399.10,308.62 397.50,310.46 395.90,308.62" fill="#7d1090" stroke="#7d1090" stroke-width="0.5" stroke-linejoin="round"/>
<circle cx="105.75" cy="308.62" r="1.6" fill="#0f7a14"/>
<circle cx="127.00" cy="308.62" r="1.6" fill="#0f7a14"/>
<circle cx="154.50" cy="308.62" r="1.6" fill="#ff7f0e"/>
<line x1="33.60" y1="308.62" x2="37.30" y2="308.62" stroke="#333" stroke-width="1.2" />
<text x="29.30" y="310.69" font-size="5.75" text-anchor="end" fill="#111" stroke="#111" stroke-width="0.2" transform="rotate(0.5 29.30 310.69)" >T3N1</text>
<polygon points="282.50,312.45 284.10,314.29 282.50,316.13 280.90,314.29" fill="#7d1090" stroke="#7d1090" stroke-width="0.5" stroke-linejoin="round"/>
<circle cx="99.25" cy="314.29" r="1.6" fill="#0f7a14"/>
<circle cx="130.75" cy="314.29" r="1.6" fill="#0f7a14"/>
<circle cx="160.25" cy="314.29" r="1.6" fill="#0f7a14"/>
<circle cx="187.00" cy="314.29" r="1.6" fill="#0f7a14"/>
<line x1="33.60" y1="314.29" x2="37.30" y2="314.29" stroke="#333" stroke-width="1.2" />
<text x="29.30" y="316.36" font-size="5.75" text-anchor="end" fill="#111" stroke="#111" stroke-width="0.2" transform="rotate(0.5 29.30 316.36)" >T3N1</text>
<circle cx="122.75" cy="319.95" r="1.6" fill="#ff7f0e"/>
<circle cx="148.00" cy="319.95" r="1.6" fill="#ff7f0e"/>
<circle cx="168.75" cy="319.95" r="1.6" fill="#0f7a14"/>
<circle cx="193.25" cy="319.95" r="1.6" fill="#0f7a14"/>
<circle cx="242.50" cy="319.95" r="1.6" fill="#0f7a14"/>
<line x1="33.60" y1="319.95" x2="37.30" y2="319.95" stroke="#333" stroke-width="1.2" />
<text x="29.30" y="322.02" font-size="5.75" text-anchor="end" fill="#111" stroke="#111" stroke-width="0.2" transform="rotate(0.5 29.30 322.02)" >T3N1</text>
<line x1="50.00" y1="325.62" x2="60.50" y2="325.62" stroke="#ff1f8e" stroke-width="1.2" />
<circle cx="50.00" cy="325.62" r="1.25" fill="#ff1f8e"/><circle cx="60.50" cy="325.62" r="1.25" fill="#ff1f8e"/>
<polygon points="299.75,323.78 301.35,325.62 299.75,327.46 298.15,325.62" fill="#7d1090" stroke="#7d1090" stroke-width="0.5" stroke-linejoin="round"/>
<polygon points="388.50,323.82 390.39,326.84 386.61,326.84" fill="#000"/>
<line x1="33.60" y1="325.62" x2="37.30" y2="325.62" stroke="#333" stroke-width="1.2" />
<text x="29.30" y="327.69" font-size="5.75" text-anchor="end" fill="#111" stroke="#111" stroke-width="0.2" transform="rotate(0.5 29.30 327.69)" >T3N1</text>
<polygon points="377.00,329.44 378.60,331.28 377.00,333.12 375.40,331.28" fill="#7d1090" stroke="#7d1090" stroke-width="0.5" stroke-linejoin="round"/>
<circle cx="94.50" cy="331.28" r="1.6" fill="#ff7f0e"/>
<circle cx="103.75" cy="331.28" r="1.6" fill="#0f7a14"/>
<circle cx="121.00" cy="331.28" r="1.6" fill="#0f7a14"/>
<circle cx="196.25" cy="331.28" r="1.6" fill="#0f7a14"/>
<line x1="33.60" y1="331.28" x2="37.30" y2="331.28" stroke="#333" stroke-width="1.2" />
<text x="29.30" y="333.35" font-size="5.75" text-anchor="end" fill="#111" stroke="#111" stroke-width="0.2" transform="rotate(0.5 29.30 333.35)" >T4N1</text>
<polygon points="216.25,335.10 217.85,336.94 216.25,338.78 214.65,336.94" fill="#7d1090" stroke="#7d1090" stroke-width="0.5" stroke-linejoin="round"/>
<circle cx="113.50" cy="336.94" r="1.6" fill="#ff7f0e"/>
<circle cx="120.50" cy="336.94" r="1.6" fill="#0f7a14"/>
<circle cx="143.50" cy="336.94" r="1.6" fill="#0f7a14"/>
<circle cx="165.50" cy="336.94" r="1.6" fill="#ff7f0e"/>
<circle cx="190.00" cy="336.94" r="1.6" fill="#ff7f0e"/>
<circle cx="223.75" cy="336.94" r="1.6" fill="#ff7f0e"/>
<polygon points="370.00,335.15 371.89,338.17 368.11,338.17" fill="#000"/>
<line x1="33.60" y1="336.94" x2="37.30" y2="336.94" stroke="#333" stroke-width="1.2" />
<text x="29.30" y="339.01" font-size="5.75" text-anchor="end" fill="#111" stroke="#111" stroke-width="0.2" transform="rotate(0.5 29.30 339.01)" >T4N2</text>
<polygon points="208.25,340.77 209.85,342.61 208.25,344.45 206.65,342.61" fill="#7d1090" stroke="#7d1090" stroke-width="0.5" stroke-linejoin="round"/>
<circle cx="143.75" cy="342.61" r="1.6" fill="#0f7a14"/>
<circle cx="166.50" cy="342.61" r="1.6" fill="#ff7f0e"/>
<polygon points="360.25,340.81 362.14,343.84 358.36,343.84" fill="#000"/>
<line x1="33.60" y1="342.61" x2="37.30" y2="342.61" stroke="#333" stroke-width="1.2" />
<text x="29.30" y="344.68" font-size="5.75" text-anchor="end" fill="#111" stroke="#111" stroke-width="0.2" transform="rotate(0.5 29.30 344.68)" >T4N2</text>
<polygon points="165.00,346.43 166.60,348.27 165.00,350.11 163.40,348.27" fill="#7d1090" stroke="#7d1090" stroke-width="0.5" stroke-linejoin="round"/>
<circle cx="104.50" cy="348.27" r="1.6" fill="#ff7f0e"/>
<circle cx="131.00" cy="348.27" r="1.6" fill="#0f7a14"/>
<circle cx="173.25" cy="348.27" r="1.6" fill="#ff7f0e"/>
<line x1="33.60" y1="348.27" x2="37.30" y2="348.27" stroke="#333" stroke-width="1.2" />
<text x="29.30" y="350.34" font-size="5.75" text-anchor="end" fill="#111" stroke="#111" stroke-width="0.2" transform="rotate(0.5 29.30 350.34)" >T3N1</text>
<circle cx="90.00" cy="353.94" r="1.6" fill="#ff7f0e"/>
<circle cx="102.50" cy="353.94" r="1.6" fill="#ff7f0e"/>
<circle cx="236.50" cy="353.94" r="1.6" fill="#ff7f0e"/>
<line x1="33.60" y1="353.94" x2="37.30" y2="353.94" stroke="#333" stroke-width="1.2" />
<text x="29.30" y="356.01" font-size="5.75" text-anchor="end" fill="#111" stroke="#111" stroke-width="0.2" transform="rotate(0.5 29.30 356.01)" >T3N1</text>
<circle cx="93.25" cy="359.60" r="1.6" fill="#ff7f0e"/>
<circle cx="108.00" cy="359.60" r="1.6" fill="#ff7f0e"/>
<line x1="33.60" y1="359.60" x2="37.30" y2="359.60" stroke="#333" stroke-width="1.2" />
<text x="29.30" y="361.67" font-size="5.75" text-anchor="end" fill="#111" stroke="#111" stroke-width="0.2" transform="rotate(0.5 29.30 361.67)" >T3N1</text>
<polygon points="246.50,363.42 248.10,365.26 246.50,367.10 244.90,365.26" fill="#7d1090" stroke="#7d1090" stroke-width="0.5" stroke-linejoin="round"/>
<circle cx="99.25" cy="365.26" r="1.6" fill="#0f7a14"/>
<circle cx="125.50" cy="365.26" r="1.6" fill="#0f7a14"/>
<circle cx="201.75" cy="365.26" r="1.6" fill="#0f7a14"/>
<circle cx="254.50" cy="365.26" r="1.6" fill="#0f7a14"/>
<line x1="33.60" y1="365.26" x2="37.30" y2="365.26" stroke="#333" stroke-width="1.2" />
<text x="29.30" y="367.33" font-size="5.75" text-anchor="end" fill="#111" stroke="#111" stroke-width="0.2" transform="rotate(0.5 29.30 367.33)" >T4N2</text>
<polygon points="317.50,369.09 319.10,370.93 317.50,372.77 315.90,370.93" fill="#7d1090" stroke="#7d1090" stroke-width="0.5" stroke-linejoin="round"/>
<circle cx="103.25" cy="370.93" r="1.6" fill="#0f7a14"/>
<circle cx="121.25" cy="370.93" r="1.6" fill="#0f7a14"/>
<circle cx="146.75" cy="370.93" r="1.6" fill="#0f7a14"/>
<circle cx="181.00" cy="370.93" r="1.6" fill="#0f7a14"/>
<circle cx="205.75" cy="370.93" r="1.6" fill="#0f7a14"/>
<circle cx="257.50" cy="370.93" r="1.6" fill="#ff7f0e"/>
<circle cx="303.25" cy="370.93" r="1.6" fill="#ff7f0e"/>
<circle cx="316.50" cy="370.93" r="1.6" fill="#ff7f0e"/>
<polygon points="337.75,369.13 339.64,372.16 335.86,372.16" fill="#000"/>
<line x1="33.60" y1="370.93" x2="37.30" y2="370.93" stroke="#333" stroke-width="1.2" />
<text x="29.30" y="373.00" font-size="5.75" text-anchor="end" fill="#111" stroke="#111" stroke-width="0.2" transform="rotate(0.5 29.30 373.00)" >T3N2</text>
<polygon points="226.25,374.75 227.85,376.59 226.25,378.43 224.65,376.59" fill="#7d1090" stroke="#7d1090" stroke-width="0.5" stroke-linejoin="round"/>
<circle cx="102.75" cy="376.59" r="1.6" fill="#0f7a14"/>
<circle cx="119.25" cy="376.59" r="1.6" fill="#0f7a14"/>
<circle cx="152.25" cy="376.59" r="1.6" fill="#0f7a14"/>
<circle cx="171.00" cy="376.59" r="1.6" fill="#0f7a14"/>
<circle cx="229.50" cy="376.59" r="1.6" fill="#ff7f0e"/>
<polygon points="326.00,374.80 327.89,377.82 324.11,377.82" fill="#000"/>
<line x1="33.60" y1="376.59" x2="37.30" y2="376.59" stroke="#333" stroke-width="1.2" />
<text x="29.30" y="378.66" font-size="5.75" text-anchor="end" fill="#111" stroke="#111" stroke-width="0.2" transform="rotate(0.5 29.30 378.66)" >T4N1</text>
<line x1="59.75" y1="382.26" x2="72.00" y2="382.26" stroke="#ff1f8e" stroke-width="1.2" />
<circle cx="59.75" cy="382.26" r="1.25" fill="#ff1f8e"/><circle cx="72.00" cy="382.26" r="1.25" fill="#ff1f8e"/>
<polygon points="211.50,380.42 213.10,382.26 211.50,384.10 209.90,382.26" fill="#7d1090" stroke="#7d1090" stroke-width="0.5" stroke-linejoin="round"/>
<circle cx="107.25" cy="382.26" r="1.6" fill="#0f7a14"/>
<circle cx="118.75" cy="382.26" r="1.6" fill="#0f7a14"/>
<circle cx="145.25" cy="382.26" r="1.6" fill="#ff7f0e"/>
<circle cx="185.00" cy="382.26" r="1.6" fill="#ff7f0e"/>
<circle cx="223.25" cy="382.26" r="1.6" fill="#ff7f0e"/>
<line x1="33.60" y1="382.26" x2="37.30" y2="382.26" stroke="#333" stroke-width="1.2" />
<text x="29.30" y="384.33" font-size="5.75" text-anchor="end" fill="#111" stroke="#111" stroke-width="0.2" transform="rotate(0.5 29.30 384.33)" >T3N1</text>
<line x1="90.00" y1="387.92" x2="91.50" y2="387.92" stroke="#ff1f8e" stroke-width="1.2" />
<circle cx="90.00" cy="387.92" r="1.25" fill="#ff1f8e"/><circle cx="91.50" cy="387.92" r="1.25" fill="#ff1f8e"/>
<polygon points="313.00,386.08 314.60,387.92 313.00,389.76 311.40,387.92" fill="#7d1090" stroke="#7d1090" stroke-width="0.5" stroke-linejoin="round"/>
<circle cx="89.50" cy="387.92" r="1.6" fill="#0f7a14"/>
<circle cx="108.00" cy="387.92" r="1.6" fill="#0f7a14"/>
<circle cx="119.50" cy="387.92" r="1.6" fill="#0f7a14"/>
<circle cx="133.50" cy="387.92" r="1.6" fill="#0f7a14"/>
<line x1="33.60" y1="387.92" x2="37.30" y2="387.92" stroke="#333" stroke-width="1.2" />
<text x="29.30" y="389.99" font-size="5.75" text-anchor="end" fill="#111" stroke="#111" stroke-width="0.2" transform="rotate(0.5 29.30 389.99)" >T4N1</text>
<line x1="57.75" y1="393.58" x2="68.00" y2="393.58" stroke="#ff1f8e" stroke-width="1.2" />
<circle cx="57.75" cy="393.58" r="1.25" fill="#ff1f8e"/><circle cx="68.00" cy="393.58" r="1.25" fill="#ff1f8e"/>
<polygon points="208.25,391.74 209.85,393.58 208.25,395.42 206.65,393.58" fill="#7d1090" stroke="#7d1090" stroke-width="0.5" stroke-linejoin="round"/>
<circle cx="57.75" cy="393.58" r="1.6" fill="#ff7f0e"/>
<circle cx="112.75" cy="393.58" r="1.6" fill="#0f7a14"/>
<circle cx="118.25" cy="393.58" r="1.6" fill="#0f7a14"/>
<circle cx="142.50" cy="393.58" r="1.6" fill="#0f7a14"/>
<circle cx="160.25" cy="393.58" r="1.6" fill="#0f7a14"/>
<circle cx="221.00" cy="393.58" r="1.6" fill="#ff7f0e"/>
<line x1="33.60" y1="393.58" x2="37.30" y2="393.58" stroke="#333" stroke-width="1.2" />
<text x="29.30" y="395.65" font-size="5.75" text-anchor="end" fill="#111" stroke="#111" stroke-width="0.2" transform="rotate(0.5 29.30 395.65)" >T3N1</text>
<line x1="70.50" y1="399.25" x2="80.75" y2="399.25" stroke="#ff1f8e" stroke-width="1.2" />
<circle cx="70.50" cy="399.25" r="1.25" fill="#ff1f8e"/><circle cx="80.75" cy="399.25" r="1.25" fill="#ff1f8e"/>
<polygon points="190.25,397.41 191.85,399.25 190.25,401.09 188.65,399.25" fill="#7d1090" stroke="#7d1090" stroke-width="0.5" stroke-linejoin="round"/>
<circle cx="59.50" cy="399.25" r="1.6" fill="#ff7f0e"/>
<circle cx="102.75" cy="399.25" r="1.6" fill="#ff7f0e"/>
<circle cx="151.50" cy="399.25" r="1.6" fill="#0f7a14"/>
<circle cx="182.50" cy="399.25" r="1.6" fill="#0f7a14"/>
<circle cx="191.75" cy="399.25" r="1.6" fill="#0f7a14"/>
<line x1="33.60" y1="399.25" x2="37.30" y2="399.25" stroke="#333" stroke-width="1.2" />
<text x="29.30" y="401.32" font-size="5.75" text-anchor="end" fill="#111" stroke="#111" stroke-width="0.2" transform="rotate(0.5 29.30 401.32)" >T3N1</text>
<line x1="57.00" y1="404.91" x2="69.00" y2="404.91" stroke="#ff1f8e" stroke-width="1.2" />
<circle cx="57.00" cy="404.91" r="1.25" fill="#ff1f8e"/><circle cx="69.00" cy="404.91" r="1.25" fill="#ff1f8e"/>
<polygon points="301.25,403.07 302.85,404.91 301.25,406.75 299.65,404.91" fill="#7d1090" stroke="#7d1090" stroke-width="0.5" stroke-linejoin="round"/>
<circle cx="54.50" cy="404.91" r="1.6" fill="#0f7a14"/>
<circle cx="105.50" cy="404.91" r="1.6" fill="#ff7f0e"/>
<circle cx="134.50" cy="404.91" r="1.6" fill="#0f7a14"/>
<line x1="33.60" y1="404.91" x2="37.30" y2="404.91" stroke="#333" stroke-width="1.2" />
<text x="29.30" y="406.98" font-size="5.75" text-anchor="end" fill="#111" stroke="#111" stroke-width="0.2" transform="rotate(0.5 29.30 406.98)" >T3N1</text>
<line x1="61.25" y1="410.58" x2="66.25" y2="410.58" stroke="#ff1f8e" stroke-width="1.2" />
<circle cx="61.25" cy="410.58" r="1.25" fill="#ff1f8e"/><circle cx="66.25" cy="410.58" r="1.25" fill="#ff1f8e"/>
<polygon points="183.75,408.74 185.35,410.58 183.75,412.42 182.15,410.58" fill="#7d1090" stroke="#7d1090" stroke-width="0.5" stroke-linejoin="round"/>
<polygon points="282.50,408.78 284.39,411.80 280.61,411.80" fill="#000"/>
<line x1="33.60" y1="410.58" x2="37.30" y2="410.58" stroke="#333" stroke-width="1.2" />
<text x="29.30" y="412.65" font-size="5.75" text-anchor="end" fill="#111" stroke="#111" stroke-width="0.2" transform="rotate(0.5 29.30 412.65)" >T3N1</text>
<line x1="63.75" y1="416.24" x2="75.75" y2="416.24" stroke="#ff1f8e" stroke-width="1.2" />
<circle cx="63.75" cy="416.24" r="1.25" fill="#ff1f8e"/><circle cx="75.75" cy="416.24" r="1.25" fill="#ff1f8e"/>
<polygon points="224.75,414.40 226.35,416.24 224.75,418.08 223.15,416.24" fill="#7d1090" stroke="#7d1090" stroke-width="0.5" stroke-linejoin="round"/>
<circle cx="101.75" cy="416.24" r="1.6" fill="#0f7a14"/>
<circle cx="122.25" cy="416.24" r="1.6" fill="#0f7a14"/>
<circle cx="162.50" cy="416.24" r="1.6" fill="#0f7a14"/>
<circle cx="187.50" cy="416.24" r="1.6" fill="#0f7a14"/>
<circle cx="200.75" cy="416.24" r="1.6" fill="#0f7a14"/>
<circle cx="277.75" cy="416.24" r="1.6" fill="#0f7a14"/>
<line x1="33.60" y1="416.24" x2="37.30" y2="416.24" stroke="#333" stroke-width="1.2" />
<text x="29.30" y="418.31" font-size="5.75" text-anchor="end" fill="#111" stroke="#111" stroke-width="0.2" transform="rotate(0.5 29.30 418.31)" >T4N1</text>
<polygon points="252.50,420.06 254.10,421.90 252.50,423.74 250.90,421.90" fill="#7d1090" stroke="#7d1090" stroke-width="0.5" stroke-linejoin="round"/>
<circle cx="102.75" cy="421.90" r="1.6" fill="#0f7a14"/>
<circle cx="111.50" cy="421.90" r="1.6" fill="#0f7a14"/>
<circle cx="162.50" cy="421.90" r="1.6" fill="#0f7a14"/>
<line x1="33.60" y1="421.90" x2="37.30" y2="421.90" stroke="#333" stroke-width="1.2" />
<text x="29.30" y="423.97" font-size="5.75" text-anchor="end" fill="#111" stroke="#111" stroke-width="0.2" transform="rotate(0.5 29.30 423.97)" >T3N1</text>
<polygon points="209.25,425.73 210.85,427.57 209.25,429.41 207.65,427.57" fill="#7d1090" stroke="#7d1090" stroke-width="0.5" stroke-linejoin="round"/>
<circle cx="94.25" cy="427.57" r="1.6" fill="#ff7f0e"/>
<circle cx="105.50" cy="427.57" r="1.6" fill="#ff7f0e"/>
<circle cx="126.25" cy="427.57" r="1.6" fill="#0f7a14"/>
<circle cx="166.00" cy="427.57" r="1.6" fill="#ff7f0e"/>
<circle cx="208.00" cy="427.57" r="1.6" fill="#ff7f0e"/>
<circle cx="211.50" cy="427.57" r="1.6" fill="#ff7f0e"/>
<line x1="33.60" y1="427.57" x2="37.30" y2="427.57" stroke="#333" stroke-width="1.2" />
<text x="29.30" y="429.64" font-size="5.75" text-anchor="end" fill="#111" stroke="#111" stroke-width="0.2" transform="rotate(0.5 29.30 429.64)" >T4N2</text>
<polygon points="132.25,431.39 133.85,433.23 132.25,435.07 130.65,433.23" fill="#7d1090" stroke="#7d1090" stroke-width="0.5" stroke-linejoin="round"/>
<circle cx="105.50" cy="433.23" r="1.6" fill="#ff7f0e"/>
<circle cx="127.25" cy="433.23" r="1.6" fill="#ff7f0e"/>
<polygon points="202.00,431.44 203.89,434.46 200.11,434.46" fill="#000"/>
<line x1="33.60" y1="433.23" x2="37.30" y2="433.23" stroke="#333" stroke-width="1.2" />
<text x="29.30" y="435.30" font-size="5.75" text-anchor="end" fill="#111" stroke="#111" stroke-width="0.2" transform="rotate(0.5 29.30 435.30)" >T3N2</text>
<polygon points="193.00,437.06 194.60,438.90 193.00,440.74 191.40,438.90" fill="#7d1090" stroke="#7d1090" stroke-width="0.5" stroke-linejoin="round"/>
<circle cx="93.75" cy="438.90" r="1.6" fill="#ff7f0e"/>
<circle cx="111.75" cy="438.90" r="1.6" fill="#0f7a14"/>
<circle cx="198.25" cy="438.90" r="1.6" fill="#0f7a14"/>
<line x1="33.60" y1="438.90" x2="37.30" y2="438.90" stroke="#333" stroke-width="1.2" />
<text x="29.30" y="440.97" font-size="5.75" text-anchor="end" fill="#111" stroke="#111" stroke-width="0.2" transform="rotate(0.5 29.30 440.97)" >T4N2</text>
<line x1="56.75" y1="444.56" x2="67.25" y2="444.56" stroke="#ff1f8e" stroke-width="1.2" />
<circle cx="56.75" cy="444.56" r="1.25" fill="#ff1f8e"/><circle cx="67.25" cy="444.56" r="1.25" fill="#ff1f8e"/>
<polygon points="158.50,442.72 160.10,444.56 158.50,446.40 156.90,444.56" fill="#7d1090" stroke="#7d1090" stroke-width="0.5" stroke-linejoin="round"/>
<circle cx="56.75" cy="444.56" r="1.6" fill="#ff7f0e"/>
<circle cx="103.25" cy="444.56" r="1.6" fill="#ff7f0e"/>
<circle cx="118.50" cy="444.56" r="1.6" fill="#ff7f0e"/>
<circle cx="145.25" cy="444.56" r="1.6" fill="#ff7f0e"/>
<circle cx="166.75" cy="444.56" r="1.6" fill="#ff7f0e"/>
<polygon points="195.75,442.77 197.64,445.79 193.86,445.79" fill="#000"/>
<line x1="33.60" y1="444.56" x2="37.30" y2="444.56" stroke="#333" stroke-width="1.2" />
<text x="29.30" y="446.63" font-size="5.75" text-anchor="end" fill="#111" stroke="#111" stroke-width="0.2" transform="rotate(0.5 29.30 446.63)" >T3N1</text>
<line x1="56.00" y1="450.22" x2="65.75" y2="450.22" stroke="#ff1f8e" stroke-width="1.2" />
<circle cx="56.00" cy="450.22" r="1.25" fill="#ff1f8e"/><circle cx="65.75" cy="450.22" r="1.25" fill="#ff1f8e"/>
<polygon points="165.50,448.38 167.10,450.22 165.50,452.06 163.90,450.22" fill="#7d1090" stroke="#7d1090" stroke-width="0.5" stroke-linejoin="round"/>
<circle cx="110.50" cy="450.22" r="1.6" fill="#0f7a14"/>
<circle cx="162.00" cy="450.22" r="1.6" fill="#ff7f0e"/>
<circle cx="174.25" cy="450.22" r="1.6" fill="#ff7f0e"/>
<polygon points="189.00,448.43 190.89,451.45 187.11,451.45" fill="#000"/>
<line x1="33.60" y1="450.22" x2="37.30" y2="450.22" stroke="#333" stroke-width="1.2" />
<text x="29.30" y="452.29" font-size="5.75" text-anchor="end" fill="#111" stroke="#111" stroke-width="0.2" transform="rotate(0.5 29.30 452.29)" >T3N2</text>
<circle cx="94.25" cy="455.89" r="1.6" fill="#ff7f0e"/>
<circle cx="107.25" cy="455.89" r="1.6" fill="#ff7f0e"/>
<circle cx="119.25" cy="455.89" r="1.6" fill="#ff7f0e"/>
<polygon points="165.50,454.09 167.39,457.12 163.61,457.12" fill="#000"/>
<line x1="33.60" y1="455.89" x2="37.30" y2="455.89" stroke="#333" stroke-width="1.2" />
<text x="29.30" y="457.96" font-size="5.75" text-anchor="end" fill="#111" stroke="#111" stroke-width="0.2" transform="rotate(0.5 29.30 457.96)" >T4N1</text>
<circle cx="106.25" cy="461.55" r="1.6" fill="#0f7a14"/>
<polygon points="144.50,459.76 146.39,462.78 142.61,462.78" fill="#000"/>
<line x1="33.60" y1="461.55" x2="37.30" y2="461.55" stroke="#333" stroke-width="1.2" />
<text x="29.30" y="463.62" font-size="5.75" text-anchor="end" fill="#111" stroke="#111" stroke-width="0.2" transform="rotate(0.5 29.30 463.62)" >T4N1</text>
<polygon points="103.50,465.38 105.10,467.22 103.50,469.06 101.90,467.22" fill="#7d1090" stroke="#7d1090" stroke-width="0.5" stroke-linejoin="round"/>
<circle cx="92.25" cy="467.22" r="1.6" fill="#ff7f0e"/>
<circle cx="105.50" cy="467.22" r="1.6" fill="#ff7f0e"/>
<polygon points="124.00,465.42 125.89,468.44 122.11,468.44" fill="#000"/>
<line x1="33.60" y1="467.22" x2="37.30" y2="467.22" stroke="#333" stroke-width="1.2" />
<text x="29.30" y="469.29" font-size="5.75" text-anchor="end" fill="#111" stroke="#111" stroke-width="0.2" transform="rotate(0.5 29.30 469.29)" >T4N1</text>
<line x1="52.00" y1="472.88" x2="64.25" y2="472.88" stroke="#ff1f8e" stroke-width="1.2" />
<circle cx="52.00" cy="472.88" r="1.25" fill="#ff1f8e"/><circle cx="64.25" cy="472.88" r="1.25" fill="#ff1f8e"/>
<polygon points="119.50,471.04 121.10,472.88 119.50,474.72 117.90,472.88" fill="#7d1090" stroke="#7d1090" stroke-width="0.5" stroke-linejoin="round"/>
<circle cx="47.00" cy="472.88" r="1.6" fill="#ff7f0e"/>
<circle cx="111.00" cy="472.88" r="1.6" fill="#ff7f0e"/>
<circle cx="114.00" cy="472.88" r="1.6" fill="#ff7f0e"/>
<line x1="33.60" y1="472.88" x2="37.30" y2="472.88" stroke="#333" stroke-width="1.2" />
<text x="29.30" y="474.95" font-size="5.75" text-anchor="end" fill="#111" stroke="#111" stroke-width="0.2" transform="rotate(0.5 29.30 474.95)" >T2N2</text>
<line x1="37.60" y1="210.00" x2="37.60" y2="481.00" stroke="#333" stroke-width="1.3" />
<line x1="37.00" y1="480.40" x2="520.00" y2="480.40" stroke="#333" stroke-width="1.3" />
<line x1="45.13" y1="480.40" x2="45.13" y2="485.80" stroke="#3a3a3a" stroke-width="1.2" />
<text x="43.68" y="494.80" font-size="8.8" text-anchor="middle" fill="#000" stroke="#000" stroke-width="0.2" >-6</text>
<line x1="69.91" y1="480.40" x2="69.91" y2="485.80" stroke="#3a3a3a" stroke-width="1.2" />
<text x="68.46" y="494.80" font-size="8.8" text-anchor="middle" fill="#000" stroke="#000" stroke-width="0.2" >-3</text>
<line x1="94.70" y1="480.40" x2="94.70" y2="485.80" stroke="#3a3a3a" stroke-width="1.2" />
<text x="94.70" y="494.80" font-size="8.8" text-anchor="middle" fill="#000" stroke="#000" stroke-width="0.2" >0</text>
<line x1="119.49" y1="480.40" x2="119.49" y2="485.80" stroke="#3a3a3a" stroke-width="1.2" />
<text x="119.49" y="494.80" font-size="8.8" text-anchor="middle" fill="#000" stroke="#000" stroke-width="0.2" >3</text>
<line x1="144.27" y1="480.40" x2="144.27" y2="485.80" stroke="#3a3a3a" stroke-width="1.2" />
<text x="144.27" y="494.80" font-size="8.8" text-anchor="middle" fill="#000" stroke="#000" stroke-width="0.2" >6</text>
<line x1="169.06" y1="480.40" x2="169.06" y2="485.80" stroke="#3a3a3a" stroke-width="1.2" />
<text x="169.06" y="494.80" font-size="8.8" text-anchor="middle" fill="#000" stroke="#000" stroke-width="0.2" >9</text>
<line x1="193.84" y1="480.40" x2="193.84" y2="485.80" stroke="#3a3a3a" stroke-width="1.2" />
<text x="193.84" y="494.80" font-size="8.8" text-anchor="middle" fill="#000" stroke="#000" stroke-width="0.2" >12</text>
<line x1="243.42" y1="480.40" x2="243.42" y2="485.80" stroke="#3a3a3a" stroke-width="1.2" />
<text x="243.42" y="494.80" font-size="8.8" text-anchor="middle" fill="#000" stroke="#000" stroke-width="0.2" >18</text>
<line x1="292.99" y1="480.40" x2="292.99" y2="485.80" stroke="#3a3a3a" stroke-width="1.2" />
<text x="292.99" y="494.80" font-size="8.8" text-anchor="middle" fill="#000" stroke="#000" stroke-width="0.2" >24</text>
<line x1="342.56" y1="480.40" x2="342.56" y2="485.80" stroke="#3a3a3a" stroke-width="1.2" />
<text x="342.56" y="494.80" font-size="8.8" text-anchor="middle" fill="#000" stroke="#000" stroke-width="0.2" >30</text>
<line x1="392.13" y1="480.40" x2="392.13" y2="485.80" stroke="#3a3a3a" stroke-width="1.2" />
<text x="392.13" y="494.80" font-size="8.8" text-anchor="middle" fill="#000" stroke="#000" stroke-width="0.2" >36</text>
<line x1="491.28" y1="480.40" x2="491.28" y2="485.80" stroke="#3a3a3a" stroke-width="1.2" />
<text x="491.28" y="494.80" font-size="8.8" text-anchor="middle" fill="#000" stroke="#000" stroke-width="0.2" >48</text>
<text x="6.90" y="340.20" font-size="8.5" text-anchor="middle" fill="#000" stroke="#000" stroke-width="0.2" transform="rotate(-90 6.90 340.20)" >Patients</text>
<text x="275.50" y="510.30" font-size="8.78" text-anchor="middle" fill="#000" stroke="#000" stroke-width="0.2" >Months from surgery</text>
<polygon points="43.60,521.04 45.30,523.00 43.60,524.96 41.90,523.00" fill="#7d1090" stroke="#7d1090" stroke-width="0.5" stroke-linejoin="round"/>
<text x="49.30" y="525.20" font-size="6.35" text-anchor="start" fill="#000" stroke="#000" stroke-width="0.2" transform="rotate(0.5 49.30 525.20)" >Recurrence</text>
<polygon points="95.20,521.09 97.21,524.30 93.19,524.30" fill="#000"/>
<text x="101.00" y="525.20" font-size="6.35" text-anchor="start" fill="#000" stroke="#000" stroke-width="0.2" transform="rotate(0.5 101.00 525.20)" >Death CRC related</text>
<line x1="172.50" y1="523.00" x2="200.50" y2="523.00" stroke="#ffe79c" stroke-width="1.3" />
<text x="204.50" y="525.20" font-size="6.35" text-anchor="start" fill="#000" stroke="#000" stroke-width="0.2" transform="rotate(0.5 204.50 525.20)" >ACT</text>
<line x1="39.60" y1="537.00" x2="69.50" y2="537.00" stroke="#ff1f8e" stroke-width="1.2" />
<circle cx="39.60" cy="537.00" r="1.05" fill="#ff1f8e"/><circle cx="69.50" cy="537.00" r="1.05" fill="#ff1f8e"/>
<text x="74.30" y="539.20" font-size="6.35" text-anchor="start" fill="#000" stroke="#000" stroke-width="0.2" transform="rotate(0.5 74.30 539.20)" >CRT</text>
<circle cx="111.40" cy="537.00" r="1.4" fill="#ff7f0e"/>
<text x="119.50" y="539.20" font-size="6.35" text-anchor="start" fill="#000" stroke="#000" stroke-width="0.2" transform="rotate(0.5 119.50 539.20)" >ctDNA (+)</text>
<circle cx="187.00" cy="537.00" r="1.4" fill="#0f7a14"/>
<text x="194.50" y="539.20" font-size="6.35" text-anchor="start" fill="#000" stroke="#000" stroke-width="0.2" transform="rotate(0.5 194.50 539.20)" >ctDNA (-)</text>
</g>
<g id="panelC">
<text x="1.20" y="556.30" font-size="12" text-anchor="start" fill="#000" stroke="#000" stroke-width="0.2" font-weight="bold" >C</text>
<line x1="96.75" y1="564.25" x2="470.00" y2="564.25" stroke="#b4b4b4" stroke-width="1.0" />
<line x1="105.00" y1="564.25" x2="110.00" y2="564.25" stroke="#ffe79c" stroke-width="1.6" />
<line x1="96.75" y1="573.51" x2="457.75" y2="573.51" stroke="#b4b4b4" stroke-width="1.0" />
<line x1="96.75" y1="582.78" x2="422.00" y2="582.78" stroke="#b4b4b4" stroke-width="1.0" />
<line x1="96.75" y1="592.04" x2="394.50" y2="592.04" stroke="#b4b4b4" stroke-width="1.0" />
<line x1="110.00" y1="592.04" x2="132.00" y2="592.04" stroke="#ffe79c" stroke-width="1.6" />
<line x1="96.75" y1="601.31" x2="387.00" y2="601.31" stroke="#b4b4b4" stroke-width="1.0" />
<line x1="96.75" y1="610.58" x2="383.50" y2="610.58" stroke="#b4b4b4" stroke-width="1.0" />
<line x1="96.75" y1="619.84" x2="378.00" y2="619.84" stroke="#b4b4b4" stroke-width="1.0" />
<line x1="96.75" y1="629.11" x2="377.75" y2="629.11" stroke="#b4b4b4" stroke-width="1.0" />
<line x1="96.75" y1="638.37" x2="335.50" y2="638.37" stroke="#b4b4b4" stroke-width="1.0" />
<line x1="96.75" y1="647.63" x2="334.50" y2="647.63" stroke="#b4b4b4" stroke-width="1.0" />
<line x1="120.00" y1="647.63" x2="137.50" y2="647.63" stroke="#ffe79c" stroke-width="1.6" />
<line x1="96.75" y1="656.90" x2="281.75" y2="656.90" stroke="#b4b4b4" stroke-width="1.0" />
<line x1="96.75" y1="666.16" x2="390.00" y2="666.16" stroke="#b4b4b4" stroke-width="1.0" />
<line x1="112.50" y1="666.16" x2="157.00" y2="666.16" stroke="#ffe79c" stroke-width="1.6" />
<line x1="96.75" y1="675.43" x2="389.00" y2="675.43" stroke="#b4b4b4" stroke-width="1.0" />
<line x1="113.25" y1="675.43" x2="158.25" y2="675.43" stroke="#ffe79c" stroke-width="1.6" />
<line x1="96.75" y1="684.70" x2="376.75" y2="684.70" stroke="#b4b4b4" stroke-width="1.0" />
<line x1="105.50" y1="684.70" x2="128.75" y2="684.70" stroke="#ffe79c" stroke-width="1.6" />
<line x1="96.75" y1="693.96" x2="371.75" y2="693.96" stroke="#b4b4b4" stroke-width="1.0" />
<line x1="114.25" y1="693.96" x2="160.00" y2="693.96" stroke="#ffe79c" stroke-width="1.6" />
<line x1="96.75" y1="703.23" x2="330.00" y2="703.23" stroke="#b4b4b4" stroke-width="1.0" />
<line x1="96.75" y1="712.49" x2="328.25" y2="712.49" stroke="#b4b4b4" stroke-width="1.0" />
<line x1="96.75" y1="721.75" x2="321.00" y2="721.75" stroke="#b4b4b4" stroke-width="1.0" />
<line x1="112.50" y1="721.75" x2="117.50" y2="721.75" stroke="#ffe79c" stroke-width="1.6" />
<line x1="73.60" y1="556.00" x2="73.60" y2="728.50" stroke="#05080f" stroke-width="1.05" stroke-opacity="0.1" stroke-dasharray="6 2.2"/>
<line x1="96.70" y1="556.00" x2="96.70" y2="728.50" stroke="#05080f" stroke-width="1.05" stroke-opacity="0.1" stroke-dasharray="6 2.2"/>
<line x1="119.80" y1="556.00" x2="119.80" y2="728.50" stroke="#05080f" stroke-width="1.05" stroke-opacity="0.1" stroke-dasharray="6 2.2"/>
<line x1="142.90" y1="556.00" x2="142.90" y2="728.50" stroke="#05080f" stroke-width="1.05" stroke-opacity="0.1" stroke-dasharray="6 2.2"/>
<line x1="166.00" y1="556.00" x2="166.00" y2="728.50" stroke="#05080f" stroke-width="1.05" stroke-opacity="0.1" stroke-dasharray="6 2.2"/>
<line x1="189.10" y1="556.00" x2="189.10" y2="728.50" stroke="#05080f" stroke-width="1.05" stroke-opacity="0.1" stroke-dasharray="6 2.2"/>
<line x1="212.20" y1="556.00" x2="212.20" y2="728.50" stroke="#05080f" stroke-width="1.05" stroke-opacity="0.1" stroke-dasharray="6 2.2"/>
<line x1="235.30" y1="556.00" x2="235.30" y2="728.50" stroke="#05080f" stroke-width="1.05" stroke-opacity="0.1" stroke-dasharray="6 2.2"/>
<line x1="258.40" y1="556.00" x2="258.40" y2="728.50" stroke="#05080f" stroke-width="1.05" stroke-opacity="0.1" stroke-dasharray="6 2.2"/>
<line x1="281.50" y1="556.00" x2="281.50" y2="728.50" stroke="#05080f" stroke-width="1.05" stroke-opacity="0.1" stroke-dasharray="6 2.2"/>
<line x1="304.60" y1="556.00" x2="304.60" y2="728.50" stroke="#05080f" stroke-width="1.05" stroke-opacity="0.1" stroke-dasharray="6 2.2"/>
<line x1="327.70" y1="556.00" x2="327.70" y2="728.50" stroke="#05080f" stroke-width="1.05" stroke-opacity="0.1" stroke-dasharray="6 2.2"/>
<line x1="350.80" y1="556.00" x2="350.80" y2="728.50" stroke="#05080f" stroke-width="1.05" stroke-opacity="0.1" stroke-dasharray="6 2.2"/>
<line x1="373.90" y1="556.00" x2="373.90" y2="728.50" stroke="#05080f" stroke-width="1.05" stroke-opacity="0.1" stroke-dasharray="6 2.2"/>
<line x1="397.00" y1="556.00" x2="397.00" y2="728.50" stroke="#05080f" stroke-width="1.05" stroke-opacity="0.1" stroke-dasharray="6 2.2"/>
<line x1="420.10" y1="556.00" x2="420.10" y2="728.50" stroke="#05080f" stroke-width="1.05" stroke-opacity="0.1" stroke-dasharray="6 2.2"/>
<line x1="443.20" y1="556.00" x2="443.20" y2="728.50" stroke="#05080f" stroke-width="1.05" stroke-opacity="0.1" stroke-dasharray="6 2.2"/>
<line x1="466.30" y1="556.00" x2="466.30" y2="728.50" stroke="#05080f" stroke-width="1.05" stroke-opacity="0.1" stroke-dasharray="6 2.2"/>
<line x1="512.50" y1="556.00" x2="512.50" y2="728.50" stroke="#05080f" stroke-width="1.05" stroke-opacity="0.1" stroke-dasharray="6 2.2"/>
<circle cx="110.25" cy="564.25" r="1.5" fill="#0f7a14"/>
<circle cx="119.00" cy="564.25" r="1.5" fill="#0f7a14"/>
<circle cx="141.75" cy="564.25" r="1.5" fill="#0f7a14"/>
<circle cx="161.75" cy="564.25" r="1.5" fill="#0f7a14"/>
<circle cx="176.00" cy="564.25" r="1.5" fill="#0f7a14"/>
<circle cx="223.75" cy="564.25" r="1.5" fill="#0f7a14"/>
<circle cx="265.50" cy="564.25" r="1.5" fill="#0f7a14"/>
<circle cx="377.00" cy="564.25" r="1.5" fill="#ff7f0e"/>
<line x1="37.80" y1="564.25" x2="43.00" y2="564.25" stroke="#333" stroke-width="1.2" />
<text x="35.80" y="566.99" font-size="7.6" text-anchor="end" fill="#1b8f1b" stroke="#1b8f1b" stroke-width="0.2" transform="rotate(0.5 35.80 566.99)" >T3N0</text>
<circle cx="117.50" cy="573.51" r="1.5" fill="#0f7a14"/>
<circle cx="138.75" cy="573.51" r="1.5" fill="#0f7a14"/>
<circle cx="182.75" cy="573.51" r="1.5" fill="#0f7a14"/>
<circle cx="229.25" cy="573.51" r="1.5" fill="#ff7f0e"/>
<circle cx="284.75" cy="573.51" r="1.5" fill="#ff7f0e"/>
<circle cx="365.50" cy="573.51" r="1.5" fill="#ff7f0e"/>
<line x1="37.80" y1="573.51" x2="43.00" y2="573.51" stroke="#333" stroke-width="1.2" />
<text x="35.80" y="576.25" font-size="7.6" text-anchor="end" fill="#1b8f1b" stroke="#1b8f1b" stroke-width="0.2" transform="rotate(0.5 35.80 576.25)" >T3N0</text>
<circle cx="103.25" cy="582.78" r="1.5" fill="#ff7f0e"/>
<circle cx="113.50" cy="582.78" r="1.5" fill="#0f7a14"/>
<circle cx="188.50" cy="582.78" r="1.5" fill="#0f7a14"/>
<circle cx="236.00" cy="582.78" r="1.5" fill="#0f7a14"/>
<line x1="37.80" y1="582.78" x2="43.00" y2="582.78" stroke="#333" stroke-width="1.2" />
<text x="35.80" y="585.52" font-size="7.6" text-anchor="end" fill="#1b8f1b" stroke="#1b8f1b" stroke-width="0.2" transform="rotate(0.5 35.80 585.52)" >T3N0</text>
<line x1="72.25" y1="592.04" x2="81.25" y2="592.04" stroke="#ff1f8e" stroke-width="1.2" />
<circle cx="72.25" cy="592.04" r="1.25" fill="#ff1f8e"/><circle cx="81.25" cy="592.04" r="1.25" fill="#ff1f8e"/>
<circle cx="72.25" cy="592.04" r="1.5" fill="#ff7f0e"/>
<circle cx="107.75" cy="592.04" r="1.5" fill="#ff7f0e"/>
<circle cx="138.00" cy="592.04" r="1.5" fill="#ff7f0e"/>
<circle cx="187.50" cy="592.04" r="1.5" fill="#0f7a14"/>
<circle cx="302.50" cy="592.04" r="1.5" fill="#0f7a14"/>
<circle cx="351.25" cy="592.04" r="1.5" fill="#0f7a14"/>
<circle cx="394.50" cy="592.04" r="1.5" fill="#0f7a14"/>
<line x1="37.80" y1="592.04" x2="43.00" y2="592.04" stroke="#333" stroke-width="1.2" />
<text x="35.80" y="594.78" font-size="7.6" text-anchor="end" fill="#1b8f1b" stroke="#1b8f1b" stroke-width="0.2" transform="rotate(0.5 35.80 594.78)" >T2N1</text>
<circle cx="104.00" cy="601.31" r="1.5" fill="#0f7a14"/>
<circle cx="116.50" cy="601.31" r="1.5" fill="#0f7a14"/>
<circle cx="141.00" cy="601.31" r="1.5" fill="#ff7f0e"/>
<circle cx="183.50" cy="601.31" r="1.5" fill="#0f7a14"/>
<circle cx="248.75" cy="601.31" r="1.5" fill="#0f7a14"/>
<circle cx="288.10" cy="601.31" r="1.5" fill="#0f7a14"/>
<line x1="37.80" y1="601.31" x2="43.00" y2="601.31" stroke="#333" stroke-width="1.2" />
<text x="35.80" y="604.05" font-size="7.6" text-anchor="end" fill="#1b8f1b" stroke="#1b8f1b" stroke-width="0.2" transform="rotate(0.5 35.80 604.05)" >T3N0</text>
<circle cx="93.75" cy="610.58" r="1.5" fill="#ff7f0e"/>
<circle cx="106.50" cy="610.58" r="1.5" fill="#ff7f0e"/>
<circle cx="133.75" cy="610.58" r="1.5" fill="#ff7f0e"/>
<circle cx="161.75" cy="610.58" r="1.5" fill="#ff7f0e"/>
<circle cx="175.75" cy="610.58" r="1.5" fill="#ff7f0e"/>
<circle cx="208.25" cy="610.58" r="1.5" fill="#ff7f0e"/>
<circle cx="293.00" cy="610.58" r="1.5" fill="#0f7a14"/>
<line x1="37.80" y1="610.58" x2="43.00" y2="610.58" stroke="#333" stroke-width="1.2" />
<text x="35.80" y="613.31" font-size="7.6" text-anchor="end" fill="#1b8f1b" stroke="#1b8f1b" stroke-width="0.2" transform="rotate(0.5 35.80 613.31)" >T3N0</text>
<circle cx="88.25" cy="619.84" r="1.5" fill="#0f7a14"/>
<circle cx="101.75" cy="619.84" r="1.5" fill="#0f7a14"/>
<circle cx="156.25" cy="619.84" r="1.5" fill="#ff7f0e"/>
<circle cx="282.25" cy="619.84" r="1.5" fill="#ff7f0e"/>
<line x1="37.80" y1="619.84" x2="43.00" y2="619.84" stroke="#333" stroke-width="1.2" />
<text x="35.80" y="622.58" font-size="7.6" text-anchor="end" fill="#1b8f1b" stroke="#1b8f1b" stroke-width="0.2" transform="rotate(0.5 35.80 622.58)" >T3N0</text>
<circle cx="105.50" cy="629.11" r="1.5" fill="#0f7a14"/>
<circle cx="119.00" cy="629.11" r="1.5" fill="#0f7a14"/>
<circle cx="141.25" cy="629.11" r="1.5" fill="#ff7f0e"/>
<circle cx="167.60" cy="629.11" r="1.5" fill="#0f7a14"/>
<circle cx="234.25" cy="629.11" r="1.5" fill="#0f7a14"/>
<circle cx="287.50" cy="629.11" r="1.5" fill="#0f7a14"/>
<line x1="37.80" y1="629.11" x2="43.00" y2="629.11" stroke="#333" stroke-width="1.2" />
<text x="35.80" y="631.84" font-size="7.6" text-anchor="end" fill="#1b8f1b" stroke="#1b8f1b" stroke-width="0.2" transform="rotate(0.5 35.80 631.84)" >T3N0</text>
<circle cx="95.50" cy="638.37" r="1.5" fill="#ff7f0e"/>
<circle cx="114.00" cy="638.37" r="1.5" fill="#0f7a14"/>
<circle cx="142.75" cy="638.37" r="1.5" fill="#0f7a14"/>
<circle cx="190.25" cy="638.37" r="1.5" fill="#0f7a14"/>
<circle cx="234.50" cy="638.37" r="1.5" fill="#ff7f0e"/>
<line x1="37.80" y1="638.37" x2="43.00" y2="638.37" stroke="#333" stroke-width="1.2" />
<text x="35.80" y="641.11" font-size="7.6" text-anchor="end" fill="#1b8f1b" stroke="#1b8f1b" stroke-width="0.2" transform="rotate(0.5 35.80 641.11)" >T3N0</text>
<circle cx="92.00" cy="647.63" r="1.5" fill="#ff7f0e"/>
<circle cx="106.25" cy="647.63" r="1.5" fill="#0f7a14"/>
<circle cx="125.00" cy="647.63" r="1.5" fill="#0f7a14"/>
<circle cx="169.75" cy="647.63" r="1.5" fill="#ff7f0e"/>
<circle cx="185.75" cy="647.63" r="1.5" fill="#ff7f0e"/>
<circle cx="253.25" cy="647.63" r="1.5" fill="#ff7f0e"/>
<line x1="37.80" y1="647.63" x2="43.00" y2="647.63" stroke="#333" stroke-width="1.2" />
<text x="35.80" y="650.37" font-size="7.6" text-anchor="end" fill="#1b8f1b" stroke="#1b8f1b" stroke-width="0.2" transform="rotate(0.5 35.80 650.37)" >T3N0</text>
<circle cx="96.50" cy="656.90" r="1.5" fill="#ff7f0e"/>
<circle cx="109.00" cy="656.90" r="1.5" fill="#0f7a14"/>
<circle cx="124.25" cy="656.90" r="1.5" fill="#ff7f0e"/>
<line x1="37.80" y1="656.90" x2="43.00" y2="656.90" stroke="#333" stroke-width="1.2" />
<text x="35.80" y="659.64" font-size="7.6" text-anchor="end" fill="#1b8f1b" stroke="#1b8f1b" stroke-width="0.2" transform="rotate(0.5 35.80 659.64)" >T3N0</text>
<circle cx="139.25" cy="666.16" r="1.5" fill="#ff7f0e"/>
<circle cx="161.40" cy="666.16" r="1.5" fill="#ff7f0e"/>
<circle cx="184.25" cy="666.16" r="1.5" fill="#ff7f0e"/>
<circle cx="207.25" cy="666.16" r="1.5" fill="#ff7f0e"/>
<circle cx="337.25" cy="666.16" r="1.5" fill="#ff7f0e"/>
<line x1="37.80" y1="666.16" x2="43.00" y2="666.16" stroke="#333" stroke-width="1.2" />
<text x="35.80" y="668.90" font-size="7.6" text-anchor="end" fill="#111" stroke="#111" stroke-width="0.2" transform="rotate(0.5 35.80 668.90)" >T4N1</text>
<circle cx="141.75" cy="675.43" r="1.5" fill="#ff7f0e"/>
<circle cx="168.00" cy="675.43" r="1.5" fill="#ff7f0e"/>
<circle cx="187.50" cy="675.43" r="1.5" fill="#ff7f0e"/>
<line x1="37.80" y1="675.43" x2="43.00" y2="675.43" stroke="#333" stroke-width="1.2" />
<text x="35.80" y="678.17" font-size="7.6" text-anchor="end" fill="#111" stroke="#111" stroke-width="0.2" transform="rotate(0.5 35.80 678.17)" >T3N2</text>
<circle cx="122.75" cy="684.70" r="1.5" fill="#ff7f0e"/>
<circle cx="146.25" cy="684.70" r="1.5" fill="#ff7f0e"/>
<circle cx="165.90" cy="684.70" r="1.5" fill="#0f7a14"/>
<circle cx="188.50" cy="684.70" r="1.5" fill="#0f7a14"/>
<circle cx="234.50" cy="684.70" r="1.5" fill="#0f7a14"/>
<line x1="37.80" y1="684.70" x2="43.00" y2="684.70" stroke="#333" stroke-width="1.2" />
<text x="35.80" y="687.43" font-size="7.6" text-anchor="end" fill="#111" stroke="#111" stroke-width="0.2" transform="rotate(0.5 35.80 687.43)" >T3N1</text>
<circle cx="93.25" cy="693.96" r="1.5" fill="#ff7f0e"/>
<circle cx="103.00" cy="693.96" r="1.5" fill="#ff7f0e"/>
<circle cx="276.50" cy="693.96" r="1.5" fill="#ff7f0e"/>
<line x1="37.80" y1="693.96" x2="43.00" y2="693.96" stroke="#333" stroke-width="1.2" />
<text x="35.80" y="696.70" font-size="7.6" text-anchor="end" fill="#111" stroke="#111" stroke-width="0.2" transform="rotate(0.5 35.80 696.70)" >T3N2</text>
<circle cx="92.25" cy="703.23" r="1.5" fill="#ff7f0e"/>
<circle cx="104.00" cy="703.23" r="1.5" fill="#ff7f0e"/>
<circle cx="229.00" cy="703.23" r="1.5" fill="#ff7f0e"/>
<line x1="37.80" y1="703.23" x2="43.00" y2="703.23" stroke="#333" stroke-width="1.2" />
<text x="35.80" y="705.96" font-size="7.6" text-anchor="end" fill="#111" stroke="#111" stroke-width="0.2" transform="rotate(0.5 35.80 705.96)" >T3N1</text>
<circle cx="95.25" cy="712.49" r="1.5" fill="#ff7f0e"/>
<circle cx="109.00" cy="712.49" r="1.5" fill="#ff7f0e"/>
<line x1="37.80" y1="712.49" x2="43.00" y2="712.49" stroke="#333" stroke-width="1.2" />
<text x="35.80" y="715.23" font-size="7.6" text-anchor="end" fill="#111" stroke="#111" stroke-width="0.2" transform="rotate(0.5 35.80 715.23)" >T3N1</text>
<circle cx="94.50" cy="721.75" r="1.5" fill="#ff7f0e"/>
<circle cx="107.00" cy="721.75" r="1.5" fill="#0f7a14"/>
<circle cx="141.50" cy="721.75" r="1.5" fill="#0f7a14"/>
<circle cx="163.25" cy="721.75" r="1.5" fill="#ff7f0e"/>
<circle cx="180.75" cy="721.75" r="1.5" fill="#ff7f0e"/>
<circle cx="232.25" cy="721.75" r="1.5" fill="#ff7f0e"/>
<line x1="37.80" y1="721.75" x2="43.00" y2="721.75" stroke="#333" stroke-width="1.2" />
<text x="35.80" y="724.49" font-size="7.6" text-anchor="end" fill="#111" stroke="#111" stroke-width="0.2" transform="rotate(0.5 35.80 724.49)" >T4N1</text>
<line x1="43.20" y1="556.00" x2="43.20" y2="729.70" stroke="#3a3a3a" stroke-width="1.3" />
<line x1="42.70" y1="729.25" x2="520.00" y2="729.25" stroke="#333" stroke-width="1.1" />
<line x1="50.50" y1="729.25" x2="50.50" y2="734.70" stroke="#3a3a3a" stroke-width="1.2" />
<text x="49.05" y="744.40" font-size="8.8" text-anchor="middle" fill="#000" stroke="#000" stroke-width="0.2" >-6</text>
<line x1="73.60" y1="729.25" x2="73.60" y2="734.70" stroke="#3a3a3a" stroke-width="1.2" />
<text x="72.15" y="744.40" font-size="8.8" text-anchor="middle" fill="#000" stroke="#000" stroke-width="0.2" >-3</text>
<line x1="96.70" y1="729.25" x2="96.70" y2="734.70" stroke="#3a3a3a" stroke-width="1.2" />
<text x="96.70" y="744.40" font-size="8.8" text-anchor="middle" fill="#000" stroke="#000" stroke-width="0.2" >0</text>
<line x1="119.80" y1="729.25" x2="119.80" y2="734.70" stroke="#3a3a3a" stroke-width="1.2" />
<text x="119.80" y="744.40" font-size="8.8" text-anchor="middle" fill="#000" stroke="#000" stroke-width="0.2" >3</text>
<line x1="142.90" y1="729.25" x2="142.90" y2="734.70" stroke="#3a3a3a" stroke-width="1.2" />
<text x="142.90" y="744.40" font-size="8.8" text-anchor="middle" fill="#000" stroke="#000" stroke-width="0.2" >6</text>
<line x1="166.00" y1="729.25" x2="166.00" y2="734.70" stroke="#3a3a3a" stroke-width="1.2" />
<text x="166.00" y="744.40" font-size="8.8" text-anchor="middle" fill="#000" stroke="#000" stroke-width="0.2" >9</text>
<line x1="189.10" y1="729.25" x2="189.10" y2="734.70" stroke="#3a3a3a" stroke-width="1.2" />
<text x="189.10" y="744.40" font-size="8.8" text-anchor="middle" fill="#000" stroke="#000" stroke-width="0.2" >12</text>
<line x1="235.30" y1="729.25" x2="235.30" y2="734.70" stroke="#3a3a3a" stroke-width="1.2" />
<text x="235.30" y="744.40" font-size="8.8" text-anchor="middle" fill="#000" stroke="#000" stroke-width="0.2" >18</text>
<line x1="281.50" y1="729.25" x2="281.50" y2="734.70" stroke="#3a3a3a" stroke-width="1.2" />
<text x="281.50" y="744.40" font-size="8.8" text-anchor="middle" fill="#000" stroke="#000" stroke-width="0.2" >24</text>
<line x1="327.70" y1="729.25" x2="327.70" y2="734.70" stroke="#3a3a3a" stroke-width="1.2" />
<text x="327.70" y="744.40" font-size="8.8" text-anchor="middle" fill="#000" stroke="#000" stroke-width="0.2" >30</text>
<line x1="373.90" y1="729.25" x2="373.90" y2="734.70" stroke="#3a3a3a" stroke-width="1.2" />
<text x="373.90" y="744.40" font-size="8.8" text-anchor="middle" fill="#000" stroke="#000" stroke-width="0.2" >36</text>
<line x1="466.30" y1="729.25" x2="466.30" y2="734.70" stroke="#3a3a3a" stroke-width="1.2" />
<text x="466.30" y="744.40" font-size="8.8" text-anchor="middle" fill="#000" stroke="#000" stroke-width="0.2" >48</text>
<line x1="512.50" y1="729.25" x2="512.50" y2="734.70" stroke="#3a3a3a" stroke-width="1.2" />
<text x="512.50" y="744.40" font-size="8.8" text-anchor="middle" fill="#000" stroke="#000" stroke-width="0.2" >54</text>
<text x="8.40" y="643.75" font-size="8.4" text-anchor="middle" fill="#000" stroke="#000" stroke-width="0.2" transform="rotate(-90 8.40 643.75)" >Patients</text>
<text x="258.75" y="760.00" font-size="8.78" text-anchor="middle" fill="#000" stroke="#000" stroke-width="0.2" >Months from surgery</text>
<polygon points="53.80,765.29 55.50,767.25 53.80,769.21 52.10,767.25" fill="#7d1090" stroke="#7d1090" stroke-width="0.5" stroke-linejoin="round"/>
<text x="59.50" y="769.45" font-size="6.35" text-anchor="start" fill="#000" stroke="#000" stroke-width="0.2" transform="rotate(0.5 59.50 769.45)" >Recurrence</text>
<polygon points="105.40,765.34 107.41,768.55 103.39,768.55" fill="#000"/>
<text x="111.20" y="769.45" font-size="6.35" text-anchor="start" fill="#000" stroke="#000" stroke-width="0.2" transform="rotate(0.5 111.20 769.45)" >Death CRC related</text>
<line x1="182.70" y1="767.25" x2="210.70" y2="767.25" stroke="#ffe79c" stroke-width="1.3" />
<text x="214.70" y="769.45" font-size="6.35" text-anchor="start" fill="#000" stroke="#000" stroke-width="0.2" transform="rotate(0.5 214.70 769.45)" >ACT</text>
<line x1="49.80" y1="781.25" x2="79.70" y2="781.25" stroke="#ff1f8e" stroke-width="1.2" />
<circle cx="49.80" cy="781.25" r="1.05" fill="#ff1f8e"/><circle cx="79.70" cy="781.25" r="1.05" fill="#ff1f8e"/>
<text x="84.50" y="783.45" font-size="6.35" text-anchor="start" fill="#000" stroke="#000" stroke-width="0.2" transform="rotate(0.5 84.50 783.45)" >CRT</text>
<circle cx="121.60" cy="781.25" r="1.4" fill="#ff7f0e"/>
<text x="129.70" y="783.45" font-size="6.35" text-anchor="start" fill="#000" stroke="#000" stroke-width="0.2" transform="rotate(0.5 129.70 783.45)" >ctDNA (+)</text>
<circle cx="197.20" cy="781.25" r="1.4" fill="#0f7a14"/>
<text x="204.70" y="783.45" font-size="6.35" text-anchor="start" fill="#000" stroke="#000" stroke-width="0.2" transform="rotate(0.5 204.70 783.45)" >ctDNA (-)</text>
</g>
<g id="panelD">
<text x="18.30" y="802.80" font-size="12" text-anchor="start" fill="#000" stroke="#000" stroke-width="0.2" font-weight="bold" >D</text>
<line x1="44.50" y1="990.25" x2="395.00" y2="990.25" stroke="#dbdbdb" stroke-width="1.1" />
<text x="40.10" y="993.40" font-size="9.0" text-anchor="end" fill="#000" stroke="#000" stroke-width="0.2" >0</text>
<line x1="44.50" y1="971.75" x2="395.00" y2="971.75" stroke="#dbdbdb" stroke-width="1.1" />
<text x="40.10" y="974.90" font-size="9.0" text-anchor="end" fill="#000" stroke="#000" stroke-width="0.2" >1</text>
<line x1="44.50" y1="953.25" x2="395.00" y2="953.25" stroke="#dbdbdb" stroke-width="1.1" />
<text x="40.10" y="956.40" font-size="9.0" text-anchor="end" fill="#000" stroke="#000" stroke-width="0.2" >2</text>
<line x1="44.50" y1="934.75" x2="395.00" y2="934.75" stroke="#dbdbdb" stroke-width="1.1" />
<text x="40.10" y="937.90" font-size="9.0" text-anchor="end" fill="#000" stroke="#000" stroke-width="0.2" >3</text>
<line x1="44.50" y1="916.25" x2="395.00" y2="916.25" stroke="#dbdbdb" stroke-width="1.1" />
<text x="40.10" y="919.40" font-size="9.0" text-anchor="end" fill="#000" stroke="#000" stroke-width="0.2" >4</text>
<line x1="44.50" y1="897.75" x2="395.00" y2="897.75" stroke="#dbdbdb" stroke-width="1.1" />
<text x="40.10" y="900.90" font-size="9.0" text-anchor="end" fill="#000" stroke="#000" stroke-width="0.2" >5</text>
<line x1="44.50" y1="879.25" x2="395.00" y2="879.25" stroke="#dbdbdb" stroke-width="1.1" />
<text x="40.10" y="882.40" font-size="9.0" text-anchor="end" fill="#000" stroke="#000" stroke-width="0.2" >6</text>
<line x1="44.50" y1="860.75" x2="395.00" y2="860.75" stroke="#dbdbdb" stroke-width="1.1" />
<text x="40.10" y="863.90" font-size="9.0" text-anchor="end" fill="#000" stroke="#000" stroke-width="0.2" >7</text>
<line x1="44.50" y1="842.25" x2="395.00" y2="842.25" stroke="#dbdbdb" stroke-width="1.1" />
<text x="40.10" y="845.40" font-size="9.0" text-anchor="end" fill="#000" stroke="#000" stroke-width="0.2" >8</text>
<line x1="44.50" y1="823.75" x2="395.00" y2="823.75" stroke="#dbdbdb" stroke-width="1.1" />
<text x="40.10" y="826.90" font-size="9.0" text-anchor="end" fill="#000" stroke="#000" stroke-width="0.2" >9</text>
<line x1="44.50" y1="805.25" x2="395.00" y2="805.25" stroke="#dbdbdb" stroke-width="1.1" />
<text x="40.10" y="808.40" font-size="9.0" text-anchor="end" fill="#000" stroke="#000" stroke-width="0.2" >10</text>
<rect x="56.5" y="971.75" width="25.3" height="18.50" fill="#2f4f1f"/>
<text x="69.15" y="984.20" font-size="9" text-anchor="middle" fill="#fff" stroke="#fff" stroke-width="0" >1</text>
<text x="69.15" y="1000.80" font-size="8.7" text-anchor="middle" fill="#000" stroke="#000" stroke-width="0.2" >Bone</text>
<rect x="106.5" y="916.25" width="25.3" height="74.00" fill="#c55a11"/>
<text x="119.15" y="956.45" font-size="9" text-anchor="middle" fill="#fff" stroke="#fff" stroke-width="0" >4</text>
<rect x="106.5" y="860.75" width="25.3" height="55.50" fill="#2f4f1f"/>
<text x="119.15" y="891.70" font-size="9" text-anchor="middle" fill="#fff" stroke="#fff" stroke-width="0" >3</text>
<text x="119.15" y="1000.80" font-size="8.7" text-anchor="middle" fill="#000" stroke="#000" stroke-width="0.2" >Liver</text>
<rect x="156.5" y="971.75" width="25.3" height="18.50" fill="#c55a11"/>
<text x="169.15" y="984.20" font-size="9" text-anchor="middle" fill="#fff" stroke="#fff" stroke-width="0" >1</text>
<rect x="156.5" y="934.75" width="25.3" height="37.00" fill="#2f4f1f"/>
<text x="169.15" y="956.45" font-size="9" text-anchor="middle" fill="#fff" stroke="#fff" stroke-width="0" >2</text>
<text x="169.15" y="1000.80" font-size="8.7" text-anchor="middle" fill="#000" stroke="#000" stroke-width="0.2" >Local</text>
<rect x="206.5" y="934.75" width="25.3" height="55.50" fill="#c55a11"/>
<text x="219.15" y="965.70" font-size="9" text-anchor="middle" fill="#fff" stroke="#fff" stroke-width="0" >3</text>
<rect x="206.5" y="916.25" width="25.3" height="18.50" fill="#2f4f1f"/>
<text x="219.15" y="928.70" font-size="9" text-anchor="middle" fill="#fff" stroke="#fff" stroke-width="0" >1</text>
<text x="219.15" y="1000.80" font-size="8.7" text-anchor="middle" fill="#000" stroke="#000" stroke-width="0.2" >Lung</text>
<rect x="256.5" y="842.25" width="25.3" height="148.00" fill="#c55a11"/>
<text x="269.15" y="919.45" font-size="9" text-anchor="middle" fill="#fff" stroke="#fff" stroke-width="0" >8</text>
<rect x="256.5" y="823.75" width="25.3" height="18.50" fill="#2f4f1f"/>
<text x="269.15" y="836.20" font-size="9" text-anchor="middle" fill="#fff" stroke="#fff" stroke-width="0" >1</text>
<text x="269.15" y="1000.80" font-size="8.7" text-anchor="middle" fill="#000" stroke="#000" stroke-width="0.2" >Multiple</text>
<rect x="306.5" y="971.75" width="25.3" height="18.50" fill="#c55a11"/>
<text x="319.15" y="984.20" font-size="9" text-anchor="middle" fill="#fff" stroke="#fff" stroke-width="0" >1</text>
<rect x="306.5" y="953.25" width="25.3" height="18.50" fill="#2f4f1f"/>
<text x="319.15" y="965.70" font-size="9" text-anchor="middle" fill="#fff" stroke="#fff" stroke-width="0" >1</text>
<text x="319.15" y="1000.80" font-size="8.7" text-anchor="middle" fill="#000" stroke="#000" stroke-width="0.2" >Nodal</text>
<rect x="356.5" y="971.75" width="25.3" height="18.50" fill="#c55a11"/>
<text x="369.15" y="984.20" font-size="9" text-anchor="middle" fill="#fff" stroke="#fff" stroke-width="0" >1</text>
<rect x="356.5" y="934.75" width="25.3" height="37.00" fill="#2f4f1f"/>
<text x="369.15" y="956.45" font-size="9" text-anchor="middle" fill="#fff" stroke="#fff" stroke-width="0" >2</text>
<text x="369.15" y="1000.80" font-size="8.7" text-anchor="middle" fill="#000" stroke="#000" stroke-width="0.2" >Peritomeum</text>
<text x="218.00" y="1017.60" font-size="8.75" text-anchor="middle" fill="#000" stroke="#000" stroke-width="0.2" >Site of relapse</text>
<text x="26.20" y="897.30" font-size="8.67" text-anchor="middle" fill="#000" stroke="#000" stroke-width="0.2" transform="rotate(-90 26.20 897.30)" >Number of patients</text>
<rect x="35.5" y="1028.4" width="5" height="5" fill="#2f4f1f"/>
<text x="47.50" y="1033.80" font-size="8.88" text-anchor="start" fill="#000" stroke="#000" stroke-width="0.2" >= ctDNA not detected</text>
<rect x="139" y="1028.4" width="5" height="5" fill="#c55a11"/>
<text x="151.00" y="1033.80" font-size="8.88" text-anchor="start" fill="#000" stroke="#000" stroke-width="0.2" >= ctDNA detected</text>
</g>
</svg></body></html>
